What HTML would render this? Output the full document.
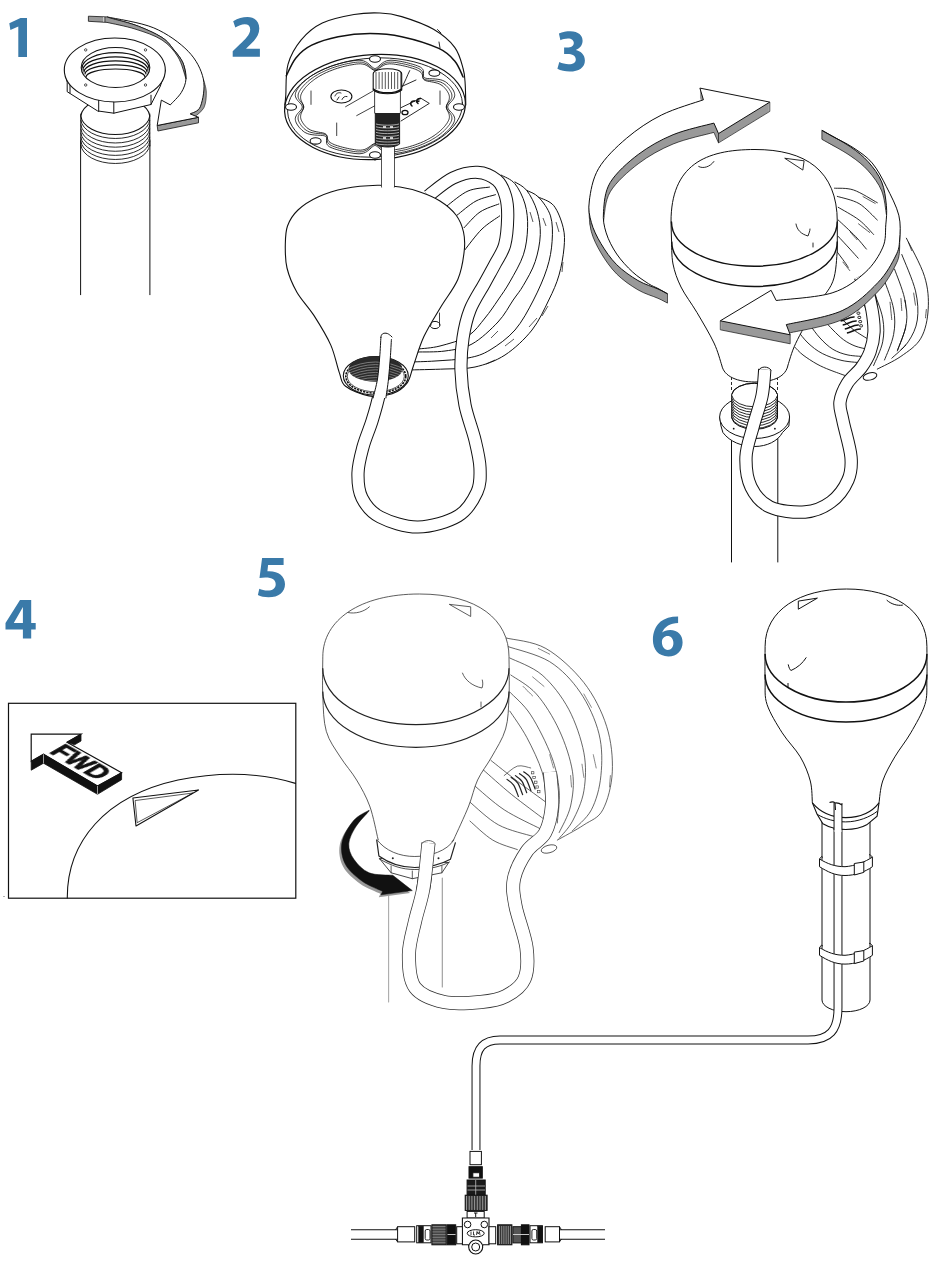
<!DOCTYPE html>
<html><head><meta charset="utf-8"><title>Installation</title>
<style>
html,body{margin:0;padding:0;background:#fff;width:945px;height:1265px;overflow:hidden}
svg{display:block}
.d{fill:#3a7aa9}
.l{fill:none;stroke:#111;stroke-width:1;stroke-linejoin:round;stroke-linecap:round}
.w{fill:#fff;stroke:#111;stroke-width:1;stroke-linejoin:round}
.g{fill:#999;stroke:#111;stroke-width:.8;stroke-linejoin:round}
.t{fill:none;stroke:#111;stroke-width:.7}
</style></head>
<body>
<svg width="945" height="1265" viewBox="0 0 945 1265">
<rect width="945" height="1265" fill="#fff"/>
<g id="digits">
<path class="d" d="M9.3,23.2 L20.5,17.9 L27,17.9 L27,57 L18.3,57 L18.3,26.5 L10.4,29.9 Z"/>
<path class="d" d="M233.2,21.3 C238,18.5 242.5,17.1 247.5,17.1 C254.5,17.1 259.3,21.2 259.3,28.6 C259.3,35.2 255.5,39.5 251.3,43.5 L246,48.8 L259.9,48.8 L259.9,56.8 L232.7,56.8 L232.7,51.2 L239.6,44.5 C245,39.3 250.2,34.5 250.2,29.4 C250.2,25.9 248.3,24.2 244.7,24.2 C241.5,24.2 238.6,25.7 235.3,27.4 Z"/>
<path class="d" d="M558.9,33.4 C562.5,31.9 566.5,31.3 570.3,31.3 C578.5,31.3 582.6,35.6 582.6,40.8 C582.6,45.2 579.8,48.3 575.8,50.1 C580.2,51 584.9,54.5 584.9,60.5 C584.9,67.5 578.8,71.6 569.8,71.6 C565.2,71.6 560.5,70.6 557.4,68.8 L559.3,62.1 C562,63.4 565.5,64.3 568.6,64.3 C573.5,64.3 575.8,62.2 575.8,59.5 C575.8,55.6 572.2,54 567.4,54 L564.1,54 L564.1,47.6 L567.3,47.6 C570.8,47.6 573.8,46.1 573.8,43 C573.8,40.4 571.7,38.5 568,38.5 C565.3,38.5 562.2,39.4 560.4,40.2 Z"/>
<path class="d" d="M20,600 L31.2,600 L31.2,623.1 L35.7,623.1 L35.7,629.5 L31.2,629.5 L31.2,638.6 L22.9,638.6 L22.9,629.5 L5.5,629.5 L5.5,623.1 Z M22.9,606.9 L13.8,622.9 L22.9,622.9 Z"/>
<path class="d" d="M262.1,558 L283.6,558 L283.6,565.1 L268.1,565.1 L267.4,571.3 C278,570.6 285,576 285,584.2 C285,592 278.8,597.3 268.5,597.3 C264.5,597.3 260.5,596.5 257.9,595.1 L259.3,588.7 C261.5,589.7 264.5,590.6 267.8,590.6 C272.3,590.6 275.7,588.3 275.7,584.2 C275.7,580.1 272.6,577.5 265.3,577.5 C263,577.5 261.2,577.7 259.5,578 Z"/>
<path class="d" d="M678.1,616.4 L678.1,622.9 C670.5,623 664.5,626.5 662.1,632.4 C664,630.9 666.8,630 670.2,630 C677.8,630 682.6,635 682.6,642.4 C682.6,650.3 677,656.4 668.4,656.4 C658.4,656.4 652.9,649.4 652.9,639.8 C652.9,632.2 655.8,625.8 660.6,621.6 C664.8,618.1 670.5,616.5 678.1,616.4 Z M667.6,635.9 C664.5,635.9 661.9,638.2 661.9,642.1 C661.9,646.6 664.3,649.9 667.8,649.9 C671.2,649.9 673.4,647.2 673.4,643 C673.4,638.6 671,635.9 667.6,635.9 Z"/>
</g>
<g id="p1">
<path d="M80.6,140 L80.6,294.7 M149.9,140 L149.9,294.7" class="l" />
<path d="M80.8,116 L80.8,146 A34.6,20 0 0 0 149.8,146 L149.8,116 A34.6,20 0 0 0 80.8,116 Z" style="fill:#fff;stroke:none" />
<path d="M80.8,114 L80.8,146 M149.8,114 L149.8,146" class="l" />
<path d="M80.8,120 A34.6,20 0 0 0 149.8,120 M80.8,124.5 A34.6,20 0 0 0 149.8,124.5 M80.8,128.7 A34.6,20 0 0 0 149.8,128.7 M80.8,132.8 A34.6,20 0 0 0 149.8,132.8 M80.8,136.9 A34.6,20 0 0 0 149.8,136.9 M80.8,141 A34.6,20 0 0 0 149.8,141 M80.8,145 A34.6,20 0 0 0 149.8,145 " class="t" style="stroke-width:.9" />
<path d="M80.8,116 A34.6,20 0 0 1 149.8,116 A34.6,20 0 0 1 80.8,116" class="l" style="stroke-width:1.1" />
<path d="M64.5,70 L67.2,82.4 L67.2,91.7 L97.5,110.9 L113.8,113.2 L151,104.5 L160.4,86 L165.4,70 Z" class="w" />
<path d="M98.7,100.4 L98.7,111.5 M113.8,101.2 L113.8,113.2 M151,95.2 L151,104.5 M70,84 L70,93" class="l" />
<ellipse class="w" cx="114.8" cy="70" rx="50.5" ry="32" style="stroke-width:1.1"/>
<ellipse class="w" cx="115.5" cy="67.5" rx="34.3" ry="20" style="stroke-width:1.1"/>
<clipPath id="hole1"><ellipse cx="115.5" cy="67.5" rx="34.3" ry="20"/></clipPath>
<g clip-path="url(#hole1)">
<path d="M82,68 A33.5,15.3 0 0 1 149,68 M83,70 A32.5,13.2 0 0 1 148,70 M84,72 A31.5,11.2 0 0 1 147,72 M85,74 A30.5,9.1 0 0 1 146,74 M86,77 A29.5,8 0 0 1 145,77" class="l" style="stroke-width:1.2" />
</g>
<g fill="none" stroke="#222" stroke-width=".8"><circle cx="85.7" cy="49.9" r="1.2"/><circle cx="145.5" cy="49.9" r="1.2"/><circle cx="85.7" cy="85" r="1.2"/><circle cx="145.5" cy="85" r="1.2"/></g>
<path d="M157.2,125.5 L198.5,117.3 L198.5,122.8 L157.9,131 Z" class="g" />
<path d="M203.3,78.8 C203.8,81 206.2,87.2 206.3,92 C206.4,96.8 206,103.3 204,107.5 C202,111.7 196.1,115.4 194.5,117 L190.2,113.9 C201,103.9 202.8,96.6 203.3,92 C203.8,87.4 203.3,81 203.3,78.8 Z" style="fill:#999;stroke:#111;stroke-width:.6" />
<path d="M107,16.9 C114.8,18.7 140.3,22.2 153.8,27.9 C167.3,33.6 179.9,42.8 188.2,51.3 C196.4,59.8 201.2,69.6 203.3,78.8 C205.4,88 202.7,100.4 200.5,106.3 C198.3,112.2 191.9,112.6 190.2,113.9 L198.5,117.3 L157.2,125.5 L161.3,100.1 L170.3,104.9 C172.1,102.8 178.7,96.8 181.3,92.5 C183.9,88.2 185.7,83.7 186,78.8 C186.3,73.9 185,67.8 183,63 C181,58.2 177.5,54.2 174,50 C170.5,45.8 168.5,41.7 162,37.5 C155.5,33.3 144.2,28.3 135,25 C125.8,21.7 111.7,18.8 107,17.6 Z" class="w" style="stroke-width:1" />
<path d="M88.4,16.2 L107,16.9 C111.7,18.8 125.8,21.7 135,25 C144.2,28.3 155.5,33.3 162,37.5 C168.5,41.7 170.5,45.8 174,50 C177.5,54.2 181,58.2 183,63 C185,67.8 185.5,76.2 186,78.8 C184.7,75.2 182,63.5 178,57 C174,50.5 169.2,44.7 162,40 C154.8,35.3 144.2,31.9 135,29 C125.8,26.1 111.7,23.5 107,22.4 L88.4,21.3 Z" style="fill:#999;stroke:#111;stroke-width:.8" />
<path d="M103.8,17 L103.8,21.8" style="stroke:#eee;stroke-width:.9" />
<path d="M105,17 L105,22" style="stroke:#111;stroke-width:.6" />
</g><g id="p2">
<path d="M501.4,175.2 C503.6,176.6 511,178.9 514.9,183.7 C518.8,188.5 522.9,196.7 525,204 C527.1,211.3 527.9,219.2 527.6,227.7 C527.3,236.2 526.4,245.8 523.4,254.8 C520.4,263.8 514,274.4 509.8,281.9 C505.6,289.4 502.1,294 498,300 C493.9,306 490,312 485,318 C480,324 475.5,331.3 468,336 C460.5,340.7 448.3,343.8 440,346 C431.7,348.2 421.7,348.5 418,349" class="l" />
<path d="M514.9,182 C516.9,183.4 523.1,185.7 526.8,190.5 C530.5,195.3 534.8,203.5 537,210.8 C539.2,218.1 540.6,226 540.3,234.5 C540,243 538,253.1 535.2,261.6 C532.4,270.1 527.1,278.9 523.4,285.3 C519.7,291.7 517.4,293.9 513.2,300 C509,306.1 504.9,314.7 498,322 C491.1,329.3 480.8,339.2 472,344 C463.2,348.8 454,349.7 445,351 C436,352.3 422.5,351.8 418,352" class="l" />
<path d="M526.8,190.5 C528.8,191.6 534.6,193 538.6,197.2 C542.6,201.4 548.2,208.6 550.5,215.9 C552.8,223.2 552.7,232.6 552.1,241.3 C551.5,250.1 550.1,258.6 547,268.4 C543.9,278.2 538.8,289.7 533.5,300 C528.2,310.3 522.2,321.7 515,330 C507.8,338.3 497.8,345.3 490,350 C482.2,354.7 477.2,356.2 468,358 C458.8,359.8 444.7,360.3 435,361 C425.3,361.7 414.2,361.8 410,362" class="l" />
<path d="M538.6,197.2 C541.1,198.6 549.7,200.6 553.8,205.7 C557.9,210.8 561.5,220.6 563.2,227.7 C564.9,234.8 564.7,240.1 564,248 C563.3,255.9 561.5,266.4 559,275.1 C556.5,283.8 553.3,290.9 548.8,300 C544.3,309.1 539.3,320.8 532,330 C524.7,339.2 514.5,348.8 505,355 C495.5,361.2 485,364.7 475,367 C465,369.3 456.2,368.5 445,369 C433.8,369.5 414.2,369.8 408,370" class="l" />
<path d="M530,212 L533,222 M543,218 L546,226 M556,222 L559,232 M563,262 L562,272 M548,306 L542,316 M537,318 L529,327 M514,339 L505,346 M498,331 L491,338 M495,360 L486,364" class="t" />
<path d="M447.2,205.7 C450.7,203.2 460.9,194.1 468,191 C475.1,187.9 485.9,187.8 489.5,187.1" class="l" />
<path d="M457.3,215 C460.4,212.7 469.6,204.4 476,201 C482.4,197.6 492.2,195.8 495.4,194.7" class="l" />
<path d="M464.1,227.7 C466.8,225.1 474.2,215.9 480,212 C485.8,208.1 495.7,205.3 498.8,204" class="l" />
<path d="M465,249.7 C467.8,246.2 476.2,234.6 482,229 C487.8,223.4 496.8,218.1 499.7,215.9" class="l" />
<ellipse class="w" cx="435" cy="325" rx="5" ry="3.6"/>
<path d="M431,318 L431,325 M439.5,313 L439.5,325" class="l" style="stroke-width:.8" />
<path d="M428,196 C432.2,193 444.7,181.9 453,178 C461.3,174.1 470.3,171.9 477.6,172.3 C484.9,172.7 492.3,176.3 497,180.3 C501.7,184.3 503.8,190.2 505.6,196.4 C507.4,202.6 507.9,209.6 507.7,217.6 C507.5,225.6 506.7,237.1 504.7,244.7 C502.7,252.3 498.9,256.8 495.5,263.3 C492.1,269.8 488.6,275.8 484.4,283.6 C480.1,291.4 473.6,300.9 470,310 C466.4,319.1 464.5,328 463,338 C461.5,348 460.7,358.8 461,370 C461.3,381.2 462.7,393.3 465,405 C467.3,416.7 472.5,429.5 475,440 C477.5,450.5 479.7,459.3 480,468 C480.3,476.7 480.7,484 477,492 C473.3,500 467.8,510.2 458,516 C448.2,521.8 431,526.8 418,527 C405,527.2 389.3,521.8 380,517 C370.7,512.2 365.7,505.3 362,498 C358.3,490.7 357.8,481.5 358,473 C358.2,464.5 360.7,455.7 363,447 C365.3,438.3 369.2,430 372,421 C374.8,412 377.7,402.3 379.5,393 C381.3,383.7 382,374.3 383,365 C384,355.7 385.1,341.7 385.5,337" style="fill:none;stroke:#111;stroke-width:13.2;stroke-linecap:butt;stroke-linejoin:round" /><path d="M428,196 C432.2,193 444.7,181.9 453,178 C461.3,174.1 470.3,171.9 477.6,172.3 C484.9,172.7 492.3,176.3 497,180.3 C501.7,184.3 503.8,190.2 505.6,196.4 C507.4,202.6 507.9,209.6 507.7,217.6 C507.5,225.6 506.7,237.1 504.7,244.7 C502.7,252.3 498.9,256.8 495.5,263.3 C492.1,269.8 488.6,275.8 484.4,283.6 C480.1,291.4 473.6,300.9 470,310 C466.4,319.1 464.5,328 463,338 C461.5,348 460.7,358.8 461,370 C461.3,381.2 462.7,393.3 465,405 C467.3,416.7 472.5,429.5 475,440 C477.5,450.5 479.7,459.3 480,468 C480.3,476.7 480.7,484 477,492 C473.3,500 467.8,510.2 458,516 C448.2,521.8 431,526.8 418,527 C405,527.2 389.3,521.8 380,517 C370.7,512.2 365.7,505.3 362,498 C358.3,490.7 357.8,481.5 358,473 C358.2,464.5 360.7,455.7 363,447 C365.3,438.3 369.2,430 372,421 C374.8,412 377.7,402.3 379.5,393 C381.3,383.7 382,374.3 383,365 C384,355.7 385.1,341.7 385.5,337" style="fill:none;stroke:#fff;stroke-width:11.2;stroke-linecap:butt;stroke-linejoin:round" />
<path d="M377.4,185.3 C368.2,185.6 354.9,186.6 345,188.5 C335.1,190.4 325.8,193.4 318,197 C310.2,200.6 303.1,205.2 298,210 C292.9,214.8 289.6,220.2 287.5,226 C285.4,231.8 285.4,238 285.3,245 C285.2,252 285.1,260.1 287,268 C288.9,275.9 292.4,284.3 296.9,292.2 C301.4,300.1 308.2,306.6 313.9,315.4 C319.5,324.2 326.6,335.6 330.8,345.1 C335,354.6 336.8,365.7 339.3,372.6 C341.8,379.5 340.7,382.4 345.6,386.3 C350.5,390.2 361.1,394.6 368.9,395.9 C376.7,397.1 385.8,395.9 392.2,393.8 C398.6,391.7 403.5,387.8 407,383.2 C410.5,378.6 410.5,374 413.3,366.2 C416.1,358.4 419.3,346.5 423.9,336.6 C428.5,326.7 435.1,316.5 440.8,307 C446.5,297.5 453.9,288.7 457.8,279.5 C461.7,270.3 463.2,259.9 464.1,252 C465.1,244.1 464.9,238.2 463.5,232 C462.1,225.8 459.9,220.2 456,215 C452.1,209.8 446,204.8 440,201 C434,197.2 426.7,194.3 420,192 C413.3,189.7 407.1,188.1 400,187 C392.9,185.9 386.6,185.1 377.4,185.3 Z" class="w" style="stroke-width:1.1" />
<ellipse class="w" cx="375.8" cy="375.8" rx="32.5" ry="19.3" style="stroke-width:1.1"/>
<ellipse cx="375.8" cy="376.3" rx="30" ry="16.8" style="fill:none;stroke:#111;stroke-width:1.6;stroke-dasharray:2.2 1"/>
<ellipse cx="375.8" cy="376.3" rx="28.5" ry="15.5" style="fill:#fff;stroke:#111;stroke-width:.7"/>
<clipPath id="op2"><ellipse cx="375.5" cy="369" rx="27" ry="12.8"/></clipPath>
<ellipse cx="375.5" cy="369" rx="27" ry="12.8" style="fill:#2a2a2a"/>
<g clip-path="url(#op2)">
<path d="M345,370.0 Q375.5,354.0 406,370.0 M345,372.6 Q375.5,356.6 406,372.6 M345,375.2 Q375.5,359.2 406,375.2 M345,377.8 Q375.5,361.8 406,377.8 M345,380.4 Q375.5,364.4 406,380.4 M345,383.0 Q375.5,367.0 406,383.0 M345,385.6 Q375.5,369.6 406,385.6 M345,388.2 Q375.5,372.2 406,388.2 " style="fill:none;stroke:#bbb;stroke-width:.55" />
</g>
<path d="M380.9,337.2 C380.7,340.5 380.3,350 379.7,357 C379.1,364 378.6,372.2 377.5,379 C376.4,385.8 373.8,394.8 373.1,398 L385.9,398 C386.3,394.8 387.8,385.7 388.5,379 C389.2,372.3 389.8,364.6 390.3,358 C390.8,351.4 391.2,342.7 391.4,339.6 Z" style="fill:#fff;stroke:none" />
<path d="M380.9,337.2 C380.7,340.5 380.3,350 379.7,357 C379.1,364 378.6,372.2 377.5,379 C376.4,385.8 373.8,394.8 373.1,398" class="l" />
<path d="M385.9,398 C386.3,394.8 387.8,385.7 388.5,379 C389.2,372.3 389.8,364.6 390.3,358 C390.8,351.4 391.2,342.7 391.4,339.6" class="l" />
<path d="M380.9,337.5 C381,334 383,333 386,333.2 C388,333.4 389,334.5 390.5,335.5 L392,337" class="l" />
<path d="M284.8,105 C285,103.3 285.3,101.8 285.8,95 C286.3,88.2 285.4,73.5 288,64.3 C290.6,55.1 295.5,46.8 301.2,39.9 C306.9,33 313.5,27.2 322.3,23 C331.1,18.8 344.4,16.2 354,14.5 C363.6,12.8 372.1,12.7 380,13 C387.9,13.3 392.8,13.9 401.7,16.6 C410.6,19.3 424.7,24.2 433.5,29.3 C442.3,34.4 449.8,40.8 454.7,47.3 C459.6,53.8 461.4,62.3 463.1,68.5 C464.9,74.7 464.8,78.3 465.2,84.4 C465.6,90.5 465.7,101.6 465.8,105 L375,160 Z" class="w" style="stroke-width:1.1" />
<path d="M286.3,75.9 C287.9,72.9 291.7,63 295.9,57.9 C300.1,52.8 304.6,48.7 311.7,45.2 C318.8,41.7 328.5,38.6 338.2,36.7 C347.9,34.8 359.4,33.6 370,33.6 C380.6,33.6 390.2,34.2 401.7,36.7 C413.2,39.2 430,44.4 438.8,48.4 C447.6,52.4 450.6,56.2 454.7,61 C458.8,65.8 461.7,74.3 463.1,77" class="l" style="stroke-width:1.5" />
<path d="M437.5,29.5 L441,33 M439,42 L440,48" class="l" style="stroke-width:.9" />
<ellipse class="w" cx="375" cy="107" rx="90.5" ry="52.5" transform="rotate(-3 375 107)" style="stroke-width:1.2"/>
<ellipse class="l" cx="375" cy="107.5" rx="87.5" ry="49.5" transform="rotate(-3 375 107)" style="stroke-width:.9"/>
<path d="M447.7,107 C447.7,107.3 447.8,107.7 447.9,108 C448,108.4 448.2,108.7 448.4,109.1 C448.6,109.4 448.9,109.8 449.2,110.1 C449.5,110.5 449.9,110.9 450.2,111.2 C450.5,111.6 450.9,112 451.3,112.4 C451.6,112.8 452,113.1 452.3,113.5 C452.6,113.9 452.9,114.3 453.2,114.7 C453.5,115.1 453.7,115.5 453.9,115.9 C454.1,116.3 454.3,116.7 454.4,117.1 C454.5,117.5 454.6,117.9 454.7,118.3 C454.7,118.7 454.7,119.1 454.7,119.4 C454.7,119.8 454.6,120.2 454.5,120.6 C454.5,121 454.3,121.4 454.2,121.7 C454.1,122.1 453.9,122.5 453.7,122.9 C453.5,123.2 453.3,123.6 453.1,124 C452.9,124.3 452.7,124.7 452.5,125 C452.2,125.4 452,125.8 451.7,126.1 C451.4,126.5 451.2,126.8 450.9,127.2 C450.6,127.5 450.3,127.9 450,128.2 C449.7,128.6 449.4,128.9 449.1,129.3 C448.8,129.6 448.5,129.9 448.1,130.3 C447.8,130.6 447.5,130.9 447.1,131.3 C446.8,131.6 446.5,131.9 446.1,132.3 C445.7,132.6 445.4,132.9 445,133.2 C444.6,133.6 444.3,133.9 443.9,134.2 C443.5,134.5 443.1,134.8 442.7,135.2 C442.3,135.5 441.9,135.8 441.5,136.1 C441.1,136.4 440.7,136.7 440.3,137 C439.8,137.3 439.4,137.6 439,137.9 C438.5,138.2 438.1,138.5 437.7,138.8 C437.2,139 436.8,139.3 436.3,139.6 C435.8,139.9 435.4,140.2 434.9,140.5 C434.4,140.7 433.9,141 433.5,141.3 C433,141.5 432.5,141.8 432,142.1 C431.5,142.3 431,142.6 430.5,142.8 C430,143.1 429.5,143.4 429,143.6 C428.5,143.9 427.9,144.1 427.4,144.3 C426.9,144.6 426.4,144.8 425.8,145.1 C425.3,145.3 424.7,145.5 424.2,145.7 C423.7,146 423.1,146.2 422.5,146.4 C422,146.6 421.4,146.9 420.9,147.1 C420.3,147.3 419.7,147.5 419.2,147.7 C418.6,147.9 418,148.1 417.4,148.3 C416.9,148.5 416.3,148.7 415.7,148.9 C415.1,149 414.5,149.2 413.9,149.4 C413.3,149.6 412.7,149.8 412.1,149.9 C411.5,150.1 410.9,150.3 410.3,150.4 C409.7,150.6 409,150.8 408.4,150.9 C407.8,151.1 407.2,151.2 406.6,151.4 C405.9,151.5 405.3,151.6 404.7,151.8 C404.1,151.9 403.4,152.1 402.8,152.2 C402.1,152.3 401.5,152.4 400.9,152.6 C400.2,152.7 399.6,152.8 398.9,152.9 C398.3,153 397.6,153.1 397,153.2 C396.3,153.3 395.7,153.4 395,153.5 C394.4,153.5 393.7,153.6 393,153.7 C392.3,153.7 391.7,153.8 391,153.8 C390.3,153.8 389.6,153.7 388.9,153.6 C388.2,153.5 387.5,153.4 386.7,153.2 C386,153 385.3,152.7 384.5,152.3 C383.8,151.9 383.1,151.5 382.3,150.9 C381.6,150.4 380.9,149.8 380.2,149.2 C379.6,148.6 378.9,147.9 378.3,147.4 C377.7,146.9 377.1,146.4 376.6,146.1 C376,145.7 375.5,145.5 375,145.5 C374.5,145.5 374,145.7 373.4,146.1 C372.9,146.4 372.3,146.9 371.7,147.4 C371.1,147.9 370.4,148.6 369.8,149.2 C369.1,149.8 368.4,150.4 367.7,150.9 C366.9,151.5 366.2,151.9 365.5,152.3 C364.7,152.7 364,153 363.3,153.2 C362.5,153.4 361.8,153.5 361.1,153.6 C360.4,153.7 359.7,153.8 359,153.8 C358.3,153.8 357.7,153.7 357,153.7 C356.3,153.6 355.6,153.5 355,153.5 C354.3,153.4 353.7,153.3 353,153.2 C352.4,153.1 351.7,153 351.1,152.9 C350.4,152.8 349.8,152.7 349.1,152.6 C348.5,152.4 347.9,152.3 347.2,152.2 C346.6,152.1 345.9,151.9 345.3,151.8 C344.7,151.6 344.1,151.5 343.4,151.4 C342.8,151.2 342.2,151.1 341.6,150.9 C341,150.8 340.3,150.6 339.7,150.4 C339.1,150.3 338.5,150.1 337.9,149.9 C337.3,149.8 336.7,149.6 336.1,149.4 C335.5,149.2 334.9,149 334.3,148.8 C333.8,148.6 333.2,148.4 332.6,148.2 C332.1,148 331.5,147.8 331,147.5 C330.5,147.3 330,147.1 329.5,146.8 C329.1,146.5 328.6,146.2 328.3,145.9 C327.9,145.5 327.5,145.2 327.3,144.8 C327,144.4 326.8,143.9 326.7,143.5 C326.6,143 326.5,142.5 326.5,142 C326.4,141.5 326.5,140.9 326.5,140.4 C326.5,139.9 326.6,139.4 326.6,138.9 C326.6,138.5 326.6,138 326.5,137.6 C326.4,137.2 326.2,136.9 325.9,136.6 C325.6,136.3 325.2,136.1 324.6,135.9 C324.1,135.7 323.5,135.6 322.7,135.5 C322,135.4 321.1,135.4 320.3,135.3 C319.4,135.3 318.5,135.3 317.5,135.2 C316.6,135.2 315.7,135.1 314.7,135 C313.8,135 312.9,134.9 312.1,134.7 C311.3,134.6 310.5,134.5 309.7,134.3 C309,134.1 308.3,133.9 307.7,133.7 C307.1,133.5 306.5,133.2 305.9,132.9 C305.4,132.7 304.9,132.4 304.4,132.1 C304,131.8 303.6,131.5 303.2,131.2 C302.7,130.9 302.4,130.6 302,130.2 C301.6,129.9 301.3,129.6 301,129.2 C300.6,128.9 300.3,128.6 300,128.2 C299.7,127.9 299.4,127.5 299.1,127.2 C298.8,126.8 298.6,126.5 298.3,126.1 C298,125.8 297.8,125.4 297.5,125 C297.3,124.7 297.1,124.3 296.9,124 C296.7,123.6 296.5,123.2 296.3,122.9 C296.1,122.5 295.9,122.1 295.8,121.7 C295.7,121.4 295.5,121 295.5,120.6 C295.4,120.2 295.3,119.8 295.3,119.4 C295.3,119.1 295.3,118.7 295.3,118.3 C295.4,117.9 295.5,117.5 295.6,117.1 C295.7,116.7 295.9,116.3 296.1,115.9 C296.3,115.5 296.5,115.1 296.8,114.7 C297.1,114.3 297.4,113.9 297.7,113.5 C298,113.1 298.4,112.8 298.7,112.4 C299.1,112 299.5,111.6 299.8,111.2 C300.1,110.9 300.5,110.5 300.8,110.1 C301.1,109.8 301.4,109.4 301.6,109.1 C301.8,108.7 302,108.4 302.1,108 C302.2,107.7 302.3,107.3 302.3,107 C302.3,106.7 302.2,106.3 302.1,106 C302,105.6 301.8,105.3 301.6,104.9 C301.4,104.6 301.1,104.2 300.8,103.9 C300.5,103.5 300.1,103.1 299.8,102.8 C299.5,102.4 299.1,102 298.7,101.6 C298.4,101.2 298,100.9 297.7,100.5 C297.4,100.1 297.1,99.7 296.8,99.3 C296.5,98.9 296.3,98.5 296.1,98.1 C295.9,97.7 295.7,97.3 295.6,96.9 C295.5,96.5 295.4,96.1 295.3,95.7 C295.3,95.3 295.3,94.9 295.3,94.6 C295.3,94.2 295.4,93.8 295.5,93.4 C295.5,93 295.7,92.6 295.8,92.3 C295.9,91.9 296.1,91.5 296.3,91.1 C296.5,90.8 296.7,90.4 296.9,90 C297.1,89.7 297.3,89.3 297.5,89 C297.8,88.6 298,88.2 298.3,87.9 C298.6,87.5 298.8,87.2 299.1,86.8 C299.4,86.5 299.7,86.1 300,85.8 C300.3,85.4 300.6,85.1 300.9,84.7 C301.2,84.4 301.5,84.1 301.9,83.7 C302.2,83.4 302.5,83.1 302.9,82.7 C303.2,82.4 303.5,82.1 303.9,81.7 C304.3,81.4 304.6,81.1 305,80.8 C305.4,80.4 305.7,80.1 306.1,79.8 C306.5,79.5 306.9,79.2 307.3,78.8 C307.7,78.5 308.1,78.2 308.5,77.9 C308.9,77.6 309.3,77.3 309.7,77 C310.2,76.7 310.6,76.4 311,76.1 C311.5,75.8 311.9,75.5 312.3,75.2 C312.8,75 313.2,74.7 313.7,74.4 C314.2,74.1 314.6,73.8 315.1,73.5 C315.6,73.3 316.1,73 316.5,72.7 C317,72.5 317.5,72.2 318,71.9 C318.5,71.7 319,71.4 319.5,71.2 C320,70.9 320.5,70.6 321,70.4 C321.5,70.1 322.1,69.9 322.6,69.7 C323.1,69.4 323.6,69.2 324.2,68.9 C324.7,68.7 325.3,68.5 325.8,68.3 C326.3,68 326.9,67.8 327.5,67.6 C328,67.4 328.6,67.1 329.1,66.9 C329.7,66.7 330.3,66.5 330.8,66.3 C331.4,66.1 332,65.9 332.6,65.7 C333.1,65.5 333.7,65.3 334.3,65.1 C334.9,65 335.5,64.8 336.1,64.6 C336.7,64.4 337.3,64.2 337.9,64.1 C338.5,63.9 339.1,63.7 339.7,63.6 C340.3,63.4 341,63.2 341.6,63.1 C342.2,62.9 342.8,62.8 343.4,62.6 C344.1,62.5 344.7,62.4 345.3,62.2 C345.9,62.1 346.6,61.9 347.2,61.8 C347.9,61.7 348.5,61.6 349.1,61.4 C349.8,61.3 350.4,61.2 351.1,61.1 C351.7,61 352.4,60.9 353,60.8 C353.7,60.7 354.3,60.6 355,60.5 C355.6,60.5 356.3,60.4 357,60.3 C357.7,60.3 358.3,60.2 359,60.2 C359.7,60.2 360.4,60.3 361.1,60.4 C361.8,60.5 362.5,60.6 363.3,60.8 C364,61 364.7,61.3 365.5,61.7 C366.2,62.1 366.9,62.5 367.7,63.1 C368.4,63.6 369.1,64.2 369.8,64.8 C370.4,65.4 371.1,66.1 371.7,66.6 C372.3,67.1 372.9,67.6 373.4,67.9 C374,68.3 374.5,68.5 375,68.5 C375.5,68.5 376,68.3 376.6,67.9 C377.1,67.6 377.7,67.1 378.3,66.6 C378.9,66.1 379.6,65.4 380.2,64.8 C380.9,64.2 381.6,63.6 382.3,63.1 C383.1,62.5 383.8,62.1 384.5,61.7 C385.3,61.3 386,61 386.7,60.8 C387.5,60.6 388.2,60.5 388.9,60.4 C389.6,60.3 390.3,60.2 391,60.2 C391.7,60.2 392.3,60.3 393,60.3 C393.7,60.4 394.4,60.5 395,60.5 C395.7,60.6 396.3,60.7 397,60.8 C397.6,60.9 398.3,61 398.9,61.1 C399.6,61.2 400.2,61.3 400.9,61.4 C401.5,61.6 402.1,61.7 402.8,61.8 C403.4,61.9 404.1,62.1 404.7,62.2 C405.3,62.4 405.9,62.5 406.6,62.6 C407.2,62.8 407.8,62.9 408.4,63.1 C409,63.2 409.7,63.4 410.3,63.6 C410.9,63.7 411.5,63.9 412.1,64.1 C412.7,64.2 413.3,64.4 413.9,64.6 C414.5,64.8 415.1,65 415.7,65.2 C416.2,65.4 416.8,65.6 417.4,65.8 C417.9,66 418.5,66.2 419,66.5 C419.5,66.7 420,66.9 420.5,67.2 C420.9,67.5 421.4,67.8 421.7,68.1 C422.1,68.5 422.5,68.8 422.7,69.2 C423,69.6 423.2,70.1 423.3,70.5 C423.4,71 423.5,71.5 423.5,72 C423.6,72.5 423.5,73.1 423.5,73.6 C423.5,74.1 423.4,74.6 423.4,75.1 C423.4,75.5 423.4,76 423.5,76.4 C423.6,76.8 423.8,77.1 424.1,77.4 C424.4,77.7 424.8,77.9 425.4,78.1 C425.9,78.3 426.5,78.4 427.3,78.5 C428,78.6 428.9,78.6 429.7,78.7 C430.6,78.7 431.5,78.7 432.5,78.8 C433.4,78.8 434.3,78.9 435.3,79 C436.2,79 437.1,79.1 437.9,79.3 C438.7,79.4 439.5,79.5 440.3,79.7 C441,79.9 441.7,80.1 442.3,80.3 C442.9,80.5 443.5,80.8 444.1,81.1 C444.6,81.3 445.1,81.6 445.6,81.9 C446,82.2 446.4,82.5 446.8,82.8 C447.3,83.1 447.6,83.4 448,83.8 C448.4,84.1 448.7,84.4 449,84.8 C449.4,85.1 449.7,85.4 450,85.8 C450.3,86.1 450.6,86.5 450.9,86.8 C451.2,87.2 451.4,87.5 451.7,87.9 C452,88.2 452.2,88.6 452.5,89 C452.7,89.3 452.9,89.7 453.1,90 C453.3,90.4 453.5,90.8 453.7,91.1 C453.9,91.5 454.1,91.9 454.2,92.3 C454.3,92.6 454.5,93 454.5,93.4 C454.6,93.8 454.7,94.2 454.7,94.6 C454.7,94.9 454.7,95.3 454.7,95.7 C454.6,96.1 454.5,96.5 454.4,96.9 C454.3,97.3 454.1,97.7 453.9,98.1 C453.7,98.5 453.5,98.9 453.2,99.3 C452.9,99.7 452.6,100.1 452.3,100.5 C452,100.9 451.6,101.2 451.3,101.6 C450.9,102 450.5,102.4 450.2,102.8 C449.9,103.1 449.5,103.5 449.2,103.9 C448.9,104.2 448.6,104.6 448.4,104.9 C448.2,105.3 448,105.6 447.9,106 C447.8,106.3 447.7,106.7 447.7,107 Z" style="fill:none;stroke:#111;stroke-width:0.85" />
<path d="M446.2,107 C446.2,107.3 446.3,107.7 446.4,108 C446.5,108.3 446.6,108.7 446.8,109 C447,109.4 447.3,109.7 447.5,110.1 C447.8,110.4 448.1,110.8 448.4,111.1 C448.6,111.5 449,111.9 449.3,112.2 C449.5,112.6 449.8,113 450.1,113.3 C450.4,113.7 450.6,114.1 450.9,114.5 C451.1,114.8 451.3,115.2 451.4,115.6 C451.6,116 451.7,116.4 451.8,116.7 C451.9,117.1 451.9,117.5 451.9,117.9 C452,118.3 451.9,118.6 451.9,119 C451.8,119.4 451.8,119.7 451.7,120.1 C451.6,120.5 451.4,120.8 451.3,121.2 C451.2,121.6 451,121.9 450.8,122.3 C450.6,122.6 450.4,123 450.2,123.3 C450,123.7 449.8,124 449.6,124.4 C449.3,124.7 449.1,125.1 448.8,125.4 C448.6,125.7 448.3,126.1 448,126.4 C447.8,126.8 447.5,127.1 447.2,127.4 C446.9,127.8 446.6,128.1 446.3,128.4 C446,128.7 445.7,129.1 445.4,129.4 C445.1,129.7 444.8,130 444.4,130.4 C444.1,130.7 443.8,131 443.4,131.3 C443.1,131.6 442.7,131.9 442.4,132.3 C442,132.6 441.7,132.9 441.3,133.2 C440.9,133.5 440.5,133.8 440.2,134.1 C439.8,134.4 439.4,134.7 439,135 C438.6,135.3 438.2,135.6 437.8,135.9 C437.4,136.2 437,136.4 436.6,136.7 C436.1,137 435.7,137.3 435.3,137.6 C434.9,137.8 434.4,138.1 434,138.4 C433.5,138.7 433.1,138.9 432.6,139.2 C432.2,139.5 431.7,139.7 431.3,140 C430.8,140.2 430.3,140.5 429.9,140.8 C429.4,141 428.9,141.3 428.4,141.5 C427.9,141.7 427.4,142 426.9,142.2 C426.4,142.5 425.9,142.7 425.4,142.9 C424.9,143.2 424.4,143.4 423.9,143.6 C423.4,143.8 422.9,144.1 422.3,144.3 C421.8,144.5 421.3,144.7 420.8,144.9 C420.2,145.1 419.7,145.4 419.1,145.6 C418.6,145.8 418.1,146 417.5,146.2 C417,146.3 416.4,146.5 415.8,146.7 C415.3,146.9 414.7,147.1 414.1,147.3 C413.6,147.5 413,147.6 412.4,147.8 C411.9,148 411.3,148.2 410.7,148.3 C410.1,148.5 409.5,148.6 408.9,148.8 C408.4,149 407.8,149.1 407.2,149.3 C406.6,149.4 406,149.5 405.4,149.7 C404.8,149.8 404.2,150 403.6,150.1 C403,150.2 402.3,150.4 401.7,150.5 C401.1,150.6 400.5,150.7 399.9,150.8 C399.3,150.9 398.7,151.1 398,151.2 C397.4,151.3 396.8,151.4 396.2,151.5 C395.5,151.6 394.9,151.6 394.3,151.7 C393.6,151.8 393,151.8 392.3,151.9 C391.7,151.9 391,152 390.4,151.9 C389.7,151.9 389,151.9 388.3,151.8 C387.7,151.7 387,151.6 386.3,151.3 C385.6,151.1 384.8,150.8 384.1,150.4 C383.4,150.1 382.7,149.6 382,149.1 C381.3,148.6 380.7,148 380,147.5 C379.4,147 378.8,146.3 378.2,145.9 C377.6,145.4 377.1,144.9 376.5,144.7 C376,144.4 375.5,144.2 375,144.2 C374.5,144.2 374,144.4 373.5,144.7 C372.9,144.9 372.4,145.4 371.8,145.9 C371.2,146.3 370.6,147 370,147.5 C369.3,148 368.7,148.6 368,149.1 C367.3,149.6 366.6,150.1 365.9,150.4 C365.2,150.8 364.4,151.1 363.7,151.3 C363,151.6 362.3,151.7 361.7,151.8 C361,151.9 360.3,151.9 359.6,151.9 C359,152 358.3,151.9 357.7,151.9 C357,151.8 356.4,151.8 355.7,151.7 C355.1,151.6 354.5,151.6 353.8,151.5 C353.2,151.4 352.6,151.3 352,151.2 C351.3,151.1 350.7,150.9 350.1,150.8 C349.5,150.7 348.9,150.6 348.3,150.5 C347.7,150.4 347,150.2 346.4,150.1 C345.8,150 345.2,149.8 344.6,149.7 C344,149.5 343.4,149.4 342.8,149.3 C342.2,149.1 341.6,149 341.1,148.8 C340.5,148.6 339.9,148.5 339.3,148.3 C338.7,148.2 338.1,148 337.6,147.8 C337,147.6 336.4,147.5 335.9,147.3 C335.3,147.1 334.8,146.9 334.2,146.7 C333.7,146.5 333.1,146.3 332.6,146.1 C332.1,145.8 331.6,145.6 331.1,145.4 C330.6,145.1 330.2,144.9 329.8,144.6 C329.3,144.3 329,144 328.6,143.6 C328.3,143.3 328,142.9 327.8,142.5 C327.6,142.1 327.5,141.7 327.4,141.2 C327.2,140.8 327.2,140.3 327.2,139.9 C327.2,139.4 327.2,138.9 327.2,138.4 C327.2,138 327.2,137.5 327.2,137.1 C327.1,136.7 327.1,136.3 326.9,135.9 C326.7,135.6 326.5,135.3 326.2,135 C325.8,134.8 325.4,134.6 324.9,134.4 C324.3,134.2 323.7,134.1 323,134 C322.3,133.9 321.5,133.8 320.7,133.7 C319.9,133.7 319,133.6 318.2,133.5 C317.3,133.5 316.4,133.4 315.6,133.3 C314.8,133.2 313.9,133.1 313.2,132.9 C312.4,132.8 311.7,132.6 311,132.4 C310.3,132.2 309.7,132 309.1,131.8 C308.5,131.6 308,131.3 307.5,131 C307,130.8 306.6,130.5 306.1,130.2 C305.7,129.9 305.3,129.6 304.9,129.3 C304.5,129 304.2,128.7 303.8,128.4 C303.5,128.1 303.2,127.7 302.9,127.4 C302.6,127.1 302.3,126.7 302,126.4 C301.7,126.1 301.5,125.7 301.2,125.4 C300.9,125.1 300.7,124.7 300.5,124.4 C300.2,124 300,123.7 299.8,123.3 C299.6,123 299.4,122.6 299.2,122.3 C299,121.9 298.8,121.6 298.7,121.2 C298.6,120.8 298.4,120.5 298.3,120.1 C298.2,119.7 298.2,119.4 298.1,119 C298.1,118.6 298,118.3 298.1,117.9 C298.1,117.5 298.1,117.1 298.2,116.7 C298.3,116.4 298.4,116 298.6,115.6 C298.7,115.2 298.9,114.8 299.1,114.5 C299.4,114.1 299.6,113.7 299.9,113.3 C300.2,113 300.5,112.6 300.7,112.2 C301,111.9 301.4,111.5 301.6,111.1 C301.9,110.8 302.2,110.4 302.5,110.1 C302.7,109.7 303,109.4 303.2,109 C303.4,108.7 303.5,108.3 303.6,108 C303.7,107.7 303.8,107.3 303.8,107 C303.8,106.7 303.7,106.3 303.6,106 C303.5,105.7 303.4,105.3 303.2,105 C303,104.6 302.7,104.3 302.5,103.9 C302.2,103.6 301.9,103.2 301.6,102.9 C301.4,102.5 301,102.1 300.7,101.8 C300.5,101.4 300.2,101 299.9,100.7 C299.6,100.3 299.4,99.9 299.1,99.5 C298.9,99.2 298.7,98.8 298.6,98.4 C298.4,98 298.3,97.6 298.2,97.3 C298.1,96.9 298.1,96.5 298.1,96.1 C298,95.7 298.1,95.4 298.1,95 C298.2,94.6 298.2,94.3 298.3,93.9 C298.4,93.5 298.6,93.2 298.7,92.8 C298.8,92.4 299,92.1 299.2,91.7 C299.4,91.4 299.6,91 299.8,90.7 C300,90.3 300.2,90 300.4,89.6 C300.7,89.3 300.9,88.9 301.2,88.6 C301.4,88.3 301.7,87.9 302,87.6 C302.2,87.2 302.5,86.9 302.8,86.6 C303.1,86.2 303.4,85.9 303.7,85.6 C304,85.3 304.3,84.9 304.6,84.6 C304.9,84.3 305.2,84 305.6,83.6 C305.9,83.3 306.2,83 306.6,82.7 C306.9,82.4 307.3,82.1 307.6,81.7 C308,81.4 308.3,81.1 308.7,80.8 C309.1,80.5 309.5,80.2 309.8,79.9 C310.2,79.6 310.6,79.3 311,79 C311.4,78.7 311.8,78.4 312.2,78.1 C312.6,77.8 313,77.6 313.4,77.3 C313.9,77 314.3,76.7 314.7,76.4 C315.1,76.2 315.6,75.9 316,75.6 C316.5,75.3 316.9,75.1 317.4,74.8 C317.8,74.5 318.3,74.3 318.7,74 C319.2,73.8 319.7,73.5 320.1,73.2 C320.6,73 321.1,72.7 321.6,72.5 C322.1,72.3 322.6,72 323.1,71.8 C323.6,71.5 324.1,71.3 324.6,71.1 C325.1,70.8 325.6,70.6 326.1,70.4 C326.6,70.2 327.1,69.9 327.7,69.7 C328.2,69.5 328.7,69.3 329.2,69.1 C329.8,68.9 330.3,68.6 330.9,68.4 C331.4,68.2 331.9,68 332.5,67.8 C333,67.7 333.6,67.5 334.2,67.3 C334.7,67.1 335.3,66.9 335.9,66.7 C336.4,66.5 337,66.4 337.6,66.2 C338.1,66 338.7,65.8 339.3,65.7 C339.9,65.5 340.5,65.4 341.1,65.2 C341.6,65 342.2,64.9 342.8,64.7 C343.4,64.6 344,64.5 344.6,64.3 C345.2,64.2 345.8,64 346.4,63.9 C347,63.8 347.7,63.6 348.3,63.5 C348.9,63.4 349.5,63.3 350.1,63.2 C350.7,63.1 351.3,62.9 352,62.8 C352.6,62.7 353.2,62.6 353.8,62.5 C354.5,62.4 355.1,62.4 355.7,62.3 C356.4,62.2 357,62.2 357.7,62.1 C358.3,62.1 359,62 359.6,62.1 C360.3,62.1 361,62.1 361.7,62.2 C362.3,62.3 363,62.4 363.7,62.7 C364.4,62.9 365.2,63.2 365.9,63.6 C366.6,63.9 367.3,64.4 368,64.9 C368.7,65.4 369.3,66 370,66.5 C370.6,67 371.2,67.7 371.8,68.1 C372.4,68.6 372.9,69.1 373.5,69.3 C374,69.6 374.5,69.8 375,69.8 C375.5,69.8 376,69.6 376.5,69.3 C377.1,69.1 377.6,68.6 378.2,68.1 C378.8,67.7 379.4,67 380,66.5 C380.7,66 381.3,65.4 382,64.9 C382.7,64.4 383.4,63.9 384.1,63.6 C384.8,63.2 385.6,62.9 386.3,62.7 C387,62.4 387.7,62.3 388.3,62.2 C389,62.1 389.7,62.1 390.4,62.1 C391,62 391.7,62.1 392.3,62.1 C393,62.2 393.6,62.2 394.3,62.3 C394.9,62.4 395.5,62.4 396.2,62.5 C396.8,62.6 397.4,62.7 398,62.8 C398.7,62.9 399.3,63.1 399.9,63.2 C400.5,63.3 401.1,63.4 401.7,63.5 C402.3,63.6 403,63.8 403.6,63.9 C404.2,64 404.8,64.2 405.4,64.3 C406,64.5 406.6,64.6 407.2,64.7 C407.8,64.9 408.4,65 408.9,65.2 C409.5,65.4 410.1,65.5 410.7,65.7 C411.3,65.8 411.9,66 412.4,66.2 C413,66.4 413.6,66.5 414.1,66.7 C414.7,66.9 415.2,67.1 415.8,67.3 C416.3,67.5 416.9,67.7 417.4,67.9 C417.9,68.2 418.4,68.4 418.9,68.6 C419.4,68.9 419.8,69.1 420.2,69.4 C420.7,69.7 421,70 421.4,70.4 C421.7,70.7 422,71.1 422.2,71.5 C422.4,71.9 422.5,72.3 422.6,72.8 C422.8,73.2 422.8,73.7 422.8,74.1 C422.8,74.6 422.8,75.1 422.8,75.6 C422.8,76 422.8,76.5 422.8,76.9 C422.9,77.3 422.9,77.7 423.1,78.1 C423.3,78.4 423.5,78.7 423.8,79 C424.2,79.2 424.6,79.4 425.1,79.6 C425.7,79.8 426.3,79.9 427,80 C427.7,80.1 428.5,80.2 429.3,80.3 C430.1,80.3 431,80.4 431.8,80.5 C432.7,80.5 433.6,80.6 434.4,80.7 C435.2,80.8 436.1,80.9 436.8,81.1 C437.6,81.2 438.3,81.4 439,81.6 C439.7,81.8 440.3,82 440.9,82.2 C441.5,82.4 442,82.7 442.5,83 C443,83.2 443.4,83.5 443.9,83.8 C444.3,84.1 444.7,84.4 445.1,84.7 C445.5,85 445.8,85.3 446.2,85.6 C446.5,85.9 446.8,86.3 447.1,86.6 C447.4,86.9 447.7,87.3 448,87.6 C448.3,87.9 448.5,88.3 448.8,88.6 C449.1,88.9 449.3,89.3 449.5,89.6 C449.8,90 450,90.3 450.2,90.7 C450.4,91 450.6,91.4 450.8,91.7 C451,92.1 451.2,92.4 451.3,92.8 C451.4,93.2 451.6,93.5 451.7,93.9 C451.8,94.3 451.8,94.6 451.9,95 C451.9,95.4 452,95.7 451.9,96.1 C451.9,96.5 451.9,96.9 451.8,97.3 C451.7,97.6 451.6,98 451.4,98.4 C451.3,98.8 451.1,99.2 450.9,99.5 C450.6,99.9 450.4,100.3 450.1,100.7 C449.8,101 449.5,101.4 449.3,101.8 C449,102.1 448.6,102.5 448.4,102.9 C448.1,103.2 447.8,103.6 447.5,103.9 C447.3,104.3 447,104.6 446.8,105 C446.6,105.3 446.5,105.7 446.4,106 C446.3,106.3 446.2,106.7 446.2,107 Z" style="fill:none;stroke:#111;stroke-width:0.8" />
<path d="M446.4,107 C446.4,107.3 446.4,107.7 446.5,108 C446.5,108.3 446.6,108.7 446.8,109 C446.9,109.3 447,109.7 447.2,110 C447.3,110.4 447.5,110.7 447.7,111.1 C447.8,111.4 448,111.8 448.2,112.1 C448.4,112.5 448.5,112.8 448.7,113.2 C448.8,113.6 449,113.9 449.1,114.3 C449.2,114.6 449.3,115 449.3,115.4 C449.4,115.7 449.4,116.1 449.4,116.4 C449.4,116.8 449.4,117.2 449.4,117.5 C449.3,117.9 449.3,118.2 449.2,118.6 C449.1,118.9 449,119.3 448.9,119.6 C448.7,120 448.6,120.3 448.4,120.7 C448.3,121 448.1,121.3 447.9,121.7 C447.7,122 447.5,122.4 447.3,122.7 C447.1,123 446.9,123.4 446.7,123.7 C446.4,124 446.2,124.4 445.9,124.7 C445.7,125 445.4,125.3 445.2,125.7 C444.9,126 444.7,126.3 444.4,126.6 C444.1,126.9 443.8,127.3 443.5,127.6 C443.2,127.9 442.9,128.2 442.6,128.5 C442.3,128.8 442,129.1 441.7,129.5 C441.4,129.8 441.1,130.1 440.7,130.4 C440.4,130.7 440.1,131 439.7,131.3 C439.4,131.6 439.1,131.9 438.7,132.2 C438.3,132.5 438,132.7 437.6,133 C437.3,133.3 436.9,133.6 436.5,133.9 C436.1,134.2 435.7,134.5 435.3,134.7 C435,135 434.6,135.3 434.2,135.6 C433.8,135.8 433.3,136.1 432.9,136.4 C432.5,136.6 432.1,136.9 431.7,137.2 C431.3,137.4 430.8,137.7 430.4,137.9 C430,138.2 429.5,138.4 429.1,138.7 C428.6,138.9 428.2,139.2 427.7,139.4 C427.3,139.7 426.8,139.9 426.3,140.2 C425.9,140.4 425.4,140.6 424.9,140.9 C424.4,141.1 424,141.3 423.5,141.5 C423,141.8 422.5,142 422,142.2 C421.5,142.4 421,142.6 420.5,142.8 C420,143 419.5,143.2 419,143.4 C418.5,143.7 417.9,143.9 417.4,144 C416.9,144.2 416.4,144.4 415.8,144.6 C415.3,144.8 414.8,145 414.2,145.2 C413.7,145.4 413.2,145.5 412.6,145.7 C412.1,145.9 411.5,146.1 411,146.2 C410.4,146.4 409.9,146.5 409.3,146.7 C408.7,146.9 408.2,147 407.6,147.2 C407.1,147.3 406.5,147.5 405.9,147.6 C405.3,147.7 404.8,147.9 404.2,148 C403.6,148.2 403,148.3 402.4,148.4 C401.9,148.5 401.3,148.7 400.7,148.8 C400.1,148.9 399.5,149 398.9,149.1 C398.3,149.2 397.7,149.3 397.1,149.4 C396.5,149.5 395.9,149.6 395.3,149.7 C394.7,149.8 394.1,149.9 393.5,150 C392.9,150 392.3,150.1 391.6,150.1 C391,150.1 390.4,150.2 389.7,150.2 C389.1,150.1 388.5,150.1 387.8,150 C387.1,149.9 386.5,149.8 385.8,149.6 C385.1,149.4 384.5,149.1 383.8,148.8 C383.1,148.5 382.4,148.1 381.8,147.6 C381.1,147.2 380.5,146.7 379.9,146.3 C379.3,145.8 378.7,145.3 378.1,144.9 C377.6,144.5 377,144.2 376.5,143.9 C376,143.7 375.5,143.6 375,143.6 C374.5,143.6 374,143.7 373.5,143.9 C373,144.2 372.4,144.5 371.9,144.9 C371.3,145.3 370.7,145.8 370.1,146.3 C369.5,146.7 368.9,147.2 368.2,147.6 C367.6,148.1 366.9,148.5 366.2,148.8 C365.5,149.1 364.9,149.4 364.2,149.6 C363.5,149.8 362.9,149.9 362.2,150 C361.5,150.1 360.9,150.1 360.3,150.2 C359.6,150.2 359,150.1 358.4,150.1 C357.7,150.1 357.1,150 356.5,150 C355.9,149.9 355.3,149.8 354.7,149.7 C354.1,149.6 353.5,149.5 352.9,149.4 C352.3,149.3 351.7,149.2 351.1,149.1 C350.5,149 349.9,148.9 349.3,148.8 C348.7,148.7 348.1,148.5 347.6,148.4 C347,148.3 346.4,148.2 345.8,148 C345.2,147.9 344.7,147.7 344.1,147.6 C343.5,147.5 342.9,147.3 342.4,147.2 C341.8,147 341.3,146.9 340.7,146.7 C340.1,146.5 339.6,146.4 339,146.2 C338.5,146 337.9,145.9 337.4,145.7 C336.9,145.5 336.3,145.3 335.8,145.2 C335.3,145 334.7,144.8 334.2,144.6 C333.7,144.4 333.2,144.2 332.7,143.9 C332.2,143.7 331.8,143.5 331.3,143.2 C330.9,143 330.5,142.7 330.1,142.5 C329.7,142.2 329.3,141.9 329,141.5 C328.7,141.2 328.5,140.9 328.2,140.5 C328,140.1 327.9,139.7 327.7,139.3 C327.6,138.9 327.5,138.5 327.4,138.1 C327.3,137.7 327.3,137.3 327.2,136.9 C327.1,136.5 327,136.1 326.9,135.7 C326.8,135.4 326.6,135 326.4,134.7 C326.2,134.4 325.9,134.1 325.5,133.9 C325.1,133.7 324.7,133.5 324.2,133.3 C323.7,133.1 323.1,133 322.5,132.8 C321.8,132.7 321.1,132.6 320.4,132.5 C319.7,132.4 319,132.2 318.3,132.1 C317.5,132 316.8,131.9 316.1,131.7 C315.4,131.6 314.7,131.4 314,131.2 C313.4,131.1 312.7,130.9 312.2,130.7 C311.6,130.5 311,130.2 310.5,130 C310,129.7 309.5,129.5 309.1,129.2 C308.6,129 308.2,128.7 307.8,128.4 C307.4,128.1 307.1,127.8 306.7,127.5 C306.4,127.2 306.1,126.9 305.8,126.6 C305.5,126.3 305.2,126 304.9,125.6 C304.6,125.3 304.4,125 304.1,124.7 C303.8,124.4 303.6,124 303.4,123.7 C303.1,123.4 302.9,123 302.7,122.7 C302.5,122.4 302.3,122 302.1,121.7 C301.9,121.3 301.7,121 301.6,120.7 C301.4,120.3 301.3,120 301.1,119.6 C301,119.3 300.9,118.9 300.8,118.6 C300.7,118.2 300.7,117.9 300.6,117.5 C300.6,117.1 300.6,116.8 300.6,116.4 C300.6,116.1 300.6,115.7 300.7,115.4 C300.7,115 300.8,114.6 300.9,114.3 C301,113.9 301.2,113.6 301.3,113.2 C301.5,112.8 301.6,112.5 301.8,112.1 C302,111.8 302.2,111.4 302.3,111.1 C302.5,110.7 302.7,110.4 302.8,110 C303,109.7 303.1,109.3 303.2,109 C303.4,108.7 303.5,108.3 303.5,108 C303.6,107.7 303.6,107.3 303.6,107 C303.6,106.7 303.6,106.3 303.5,106 C303.5,105.7 303.4,105.3 303.2,105 C303.1,104.7 303,104.3 302.8,104 C302.7,103.6 302.5,103.3 302.3,102.9 C302.2,102.6 302,102.2 301.8,101.9 C301.6,101.5 301.5,101.2 301.3,100.8 C301.2,100.4 301,100.1 300.9,99.7 C300.8,99.4 300.7,99 300.7,98.6 C300.6,98.3 300.6,97.9 300.6,97.6 C300.6,97.2 300.6,96.8 300.6,96.5 C300.7,96.1 300.7,95.8 300.8,95.4 C300.9,95.1 301,94.7 301.1,94.4 C301.3,94 301.4,93.7 301.6,93.3 C301.7,93 301.9,92.7 302.1,92.3 C302.3,92 302.5,91.6 302.7,91.3 C302.9,91 303.1,90.6 303.3,90.3 C303.6,90 303.8,89.6 304.1,89.3 C304.3,89 304.6,88.7 304.8,88.3 C305.1,88 305.3,87.7 305.6,87.4 C305.9,87.1 306.2,86.7 306.5,86.4 C306.8,86.1 307.1,85.8 307.4,85.5 C307.7,85.2 308,84.9 308.3,84.5 C308.6,84.2 308.9,83.9 309.3,83.6 C309.6,83.3 309.9,83 310.3,82.7 C310.6,82.4 310.9,82.1 311.3,81.8 C311.7,81.5 312,81.3 312.4,81 C312.7,80.7 313.1,80.4 313.5,80.1 C313.9,79.8 314.3,79.5 314.7,79.3 C315,79 315.4,78.7 315.8,78.4 C316.2,78.2 316.7,77.9 317.1,77.6 C317.5,77.4 317.9,77.1 318.3,76.8 C318.7,76.6 319.2,76.3 319.6,76.1 C320,75.8 320.5,75.6 320.9,75.3 C321.4,75.1 321.8,74.8 322.3,74.6 C322.7,74.3 323.2,74.1 323.7,73.8 C324.1,73.6 324.6,73.4 325.1,73.1 C325.6,72.9 326,72.7 326.5,72.5 C327,72.2 327.5,72 328,71.8 C328.5,71.6 329,71.4 329.5,71.2 C330,71 330.5,70.8 331,70.6 C331.5,70.3 332.1,70.1 332.6,70 C333.1,69.8 333.6,69.6 334.2,69.4 C334.7,69.2 335.2,69 335.8,68.8 C336.3,68.6 336.8,68.5 337.4,68.3 C337.9,68.1 338.5,67.9 339,67.8 C339.6,67.6 340.1,67.5 340.7,67.3 C341.3,67.1 341.8,67 342.4,66.8 C342.9,66.7 343.5,66.5 344.1,66.4 C344.7,66.3 345.2,66.1 345.8,66 C346.4,65.8 347,65.7 347.6,65.6 C348.1,65.5 348.7,65.3 349.3,65.2 C349.9,65.1 350.5,65 351.1,64.9 C351.7,64.8 352.3,64.7 352.9,64.6 C353.5,64.5 354.1,64.4 354.7,64.3 C355.3,64.2 355.9,64.1 356.5,64 C357.1,64 357.7,63.9 358.4,63.9 C359,63.9 359.6,63.8 360.3,63.8 C360.9,63.9 361.5,63.9 362.2,64 C362.9,64.1 363.5,64.2 364.2,64.4 C364.9,64.6 365.5,64.9 366.2,65.2 C366.9,65.5 367.6,65.9 368.2,66.4 C368.9,66.8 369.5,67.3 370.1,67.7 C370.7,68.2 371.3,68.7 371.9,69.1 C372.4,69.5 373,69.8 373.5,70.1 C374,70.3 374.5,70.4 375,70.4 C375.5,70.4 376,70.3 376.5,70.1 C377,69.8 377.6,69.5 378.1,69.1 C378.7,68.7 379.3,68.2 379.9,67.7 C380.5,67.3 381.1,66.8 381.8,66.4 C382.4,65.9 383.1,65.5 383.8,65.2 C384.5,64.9 385.1,64.6 385.8,64.4 C386.5,64.2 387.1,64.1 387.8,64 C388.5,63.9 389.1,63.9 389.7,63.8 C390.4,63.8 391,63.9 391.6,63.9 C392.3,63.9 392.9,64 393.5,64 C394.1,64.1 394.7,64.2 395.3,64.3 C395.9,64.4 396.5,64.5 397.1,64.6 C397.7,64.7 398.3,64.8 398.9,64.9 C399.5,65 400.1,65.1 400.7,65.2 C401.3,65.3 401.9,65.5 402.4,65.6 C403,65.7 403.6,65.8 404.2,66 C404.8,66.1 405.3,66.3 405.9,66.4 C406.5,66.5 407.1,66.7 407.6,66.8 C408.2,67 408.7,67.1 409.3,67.3 C409.9,67.5 410.4,67.6 411,67.8 C411.5,68 412.1,68.1 412.6,68.3 C413.1,68.5 413.7,68.7 414.2,68.8 C414.7,69 415.3,69.2 415.8,69.4 C416.3,69.6 416.8,69.8 417.3,70.1 C417.8,70.3 418.2,70.5 418.7,70.8 C419.1,71 419.5,71.3 419.9,71.5 C420.3,71.8 420.7,72.1 421,72.5 C421.3,72.8 421.5,73.1 421.8,73.5 C422,73.9 422.1,74.3 422.3,74.7 C422.4,75.1 422.5,75.5 422.6,75.9 C422.7,76.3 422.7,76.7 422.8,77.1 C422.9,77.5 423,77.9 423.1,78.3 C423.2,78.6 423.4,79 423.6,79.3 C423.8,79.6 424.1,79.9 424.5,80.1 C424.9,80.3 425.3,80.5 425.8,80.7 C426.3,80.9 426.9,81 427.5,81.2 C428.2,81.3 428.9,81.4 429.6,81.5 C430.3,81.6 431,81.8 431.7,81.9 C432.5,82 433.2,82.1 433.9,82.3 C434.6,82.4 435.3,82.6 436,82.8 C436.6,82.9 437.3,83.1 437.8,83.3 C438.4,83.5 439,83.8 439.5,84 C440,84.3 440.5,84.5 440.9,84.8 C441.4,85 441.8,85.3 442.2,85.6 C442.6,85.9 442.9,86.2 443.3,86.5 C443.6,86.8 443.9,87.1 444.2,87.4 C444.5,87.7 444.8,88 445.1,88.4 C445.4,88.7 445.6,89 445.9,89.3 C446.2,89.6 446.4,90 446.6,90.3 C446.9,90.6 447.1,91 447.3,91.3 C447.5,91.6 447.7,92 447.9,92.3 C448.1,92.7 448.3,93 448.4,93.3 C448.6,93.7 448.7,94 448.9,94.4 C449,94.7 449.1,95.1 449.2,95.4 C449.3,95.8 449.3,96.1 449.4,96.5 C449.4,96.9 449.4,97.2 449.4,97.6 C449.4,97.9 449.4,98.3 449.3,98.6 C449.3,99 449.2,99.4 449.1,99.7 C449,100.1 448.8,100.4 448.7,100.8 C448.5,101.2 448.4,101.5 448.2,101.9 C448,102.2 447.8,102.6 447.7,102.9 C447.5,103.3 447.3,103.6 447.2,104 C447,104.3 446.9,104.7 446.8,105 C446.6,105.3 446.5,105.7 446.5,106 C446.4,106.3 446.4,106.7 446.4,107 Z" style="fill:none;stroke:#111;stroke-width:0.85" />
<ellipse class="w" cx="459.0" cy="107.0" rx="5.5" ry="3.2" style="stroke-width:1.1"/>
<ellipse class="w" cx="434.4" cy="73.1" rx="5.5" ry="3.2" style="stroke-width:1.1"/>
<ellipse class="w" cx="375.0" cy="59.0" rx="5.5" ry="3.2" style="stroke-width:1.1"/>
<ellipse class="w" cx="375.0" cy="155.0" rx="5.5" ry="3.2" style="stroke-width:1.1"/>
<ellipse class="w" cx="315.6" cy="140.9" rx="5.5" ry="3.2" style="stroke-width:1.1"/>
<ellipse class="w" cx="291.0" cy="107.0" rx="5.5" ry="3.2" style="stroke-width:1.1"/>
<ellipse class="w" cx="341.4" cy="96.5" rx="10.5" ry="6.5" style="stroke-width:1.1"/>
<path d="M335,96 C336,93 339,92 341,93 M337,100 L339,97 M342,99.5 C343,97 345,96 347,96.5" class="l" style="stroke-width:.9" />
<path d="M345.6,106.7 L373,91 M356.7,115.6 L374.4,106 M311,91 L311,104.4 M336.7,123 L336.7,135.6 M440,91 L440,104.4" class="l" style="stroke-width:.8" />
<path d="M400.7,107.8 L420.8,98.2 L429.3,103.4 L400.7,121.2" style="fill:none;stroke:#111;stroke-width:.9" />
<path d="M412,106 C409.5,104 411,100.5 414.5,101 M418,103.5 C415.5,101.5 417,98 420.5,98.5 M416.5,102 L419,101" class="l" style="stroke-width:1.5" />
<ellipse cx="405" cy="112.5" rx="3" ry="2.2" style="fill:none;stroke:#111;stroke-width:1.3"/>
<path d="M409.7,70.6 C407,76 405.5,81 401.7,87.5 M401.7,86.5 L416,80" class="l" style="stroke-width:.9" />
<path d="M381.6,146 L381.6,187 M394.3,146 L394.3,187" class="l" />
<rect x="381.8" y="146" width="12.3" height="41" style="fill:#fff"/>
<path d="M375.3,113 L399.6,113 L399.6,144 C395,148 381,148 375.3,144 Z" style="fill:#fff;stroke:#111;stroke-width:1" />
<path d="M375.3,113 L399.6,113 L399.6,144 C395,148 381,148 375.3,144 Z" style="fill:#222"/>
<path d="M376,124.0 C381,125.6 394,125.6 399,124.0 M376,126.8 C381,128.4 394,128.4 399,126.8 M376,129.6 C381,131.2 394,131.2 399,129.6 M376,132.4 C381,134.0 394,134.0 399,132.4 M376,135.2 C381,136.8 394,136.8 399,135.2 M376,138.0 C381,139.6 394,139.6 399,138.0 M376,140.8 C381,142.4 394,142.4 399,140.8 M376,143.6 C381,145.2 394,145.2 399,143.6 " style="fill:none;stroke:#ccc;stroke-width:.8" />
<path d="M383,127 L386,127 M390,127 L393,127 M383,138 L386,138 M390,138 L393,138" style="stroke:#fff;stroke-width:1.4" />
<path d="M374.8,90.7 L374.8,113 M400.2,90.7 L400.2,113" class="l" />
<rect x="375.3" y="91" width="24.5" height="22" style="fill:#fff"/>
<path d="M373.2,74 C373.2,67 401.7,67 401.7,74 L401.7,90 C395,95 380,95 373.2,90 Z" class="w" style="stroke-width:1.1" />
<path d="M376.0,72 L376.0,89 M379.1,72 L379.1,89 M382.2,72 L382.2,89 M385.3,72 L385.3,89 M388.4,72 L388.4,89 M391.5,72 L391.5,89 M394.6,72 L394.6,89 M397.7,72 L397.7,89 M400.8,72 L400.8,89 " style="fill:none;stroke:#111;stroke-width:.7" />
<path d="M373.5,89 C380,94 395,94 401.5,89" class="l" style="stroke-width:1.3" />
</g><g id="p3">
<path d="M834.5,188.2 C837.7,188.5 846.5,187.6 853.6,190 C860.8,192.4 873.3,200.6 877.3,202.7" class="l" style="stroke-width:.9" />
<path d="M837.3,196.4 C840.9,197.6 852.4,199.7 859.1,203.6 C865.8,207.6 874.2,217.3 877.3,220" class="l" style="stroke-width:.9" />
<path d="M838.2,207.3 C841.7,209.4 853.2,215.5 859.1,220 C865,224.5 871.2,232.1 873.6,234.5" class="l" style="stroke-width:.9" />
<path d="M838.2,220 C841.1,222.7 850.8,231.5 855.5,236.4 C860.2,241.2 864.5,247 866.4,249.1" class="l" style="stroke-width:.9" />
<path d="M838.2,236.4 C840.2,238.5 846.7,245.5 850,249.1 C853.3,252.7 856.8,256.7 858.2,258.2" class="l" style="stroke-width:.9" />
<path d="M836.4,250.9 C837.7,252.7 842.6,259.1 844.5,261.8 C846.5,264.5 847.6,266.4 848.2,267.3" class="l" style="stroke-width:.9" />
<path d="M862.7,196.4 C864.8,197.6 873.3,202.4 875.5,203.6 M858.2,223.6 C860.2,225.2 868,231.2 870,232.7 M850,231.8 C851.2,233.2 856.1,238.6 857.3,240 M842.7,261.8 C843.9,263.3 848.8,269.4 850,270.9" class="t" />
<path d="M906.4,238.2 C909.4,244.5 920.9,264.5 924.5,276.4 C928.2,288.2 928.8,298.8 928.2,309.1 C927.6,319.4 925.5,330.3 920.9,338.2 C916.4,346.1 908.2,351.2 900.9,356.4 C893.6,361.5 881.2,367 877.3,369.1" class="l" style="stroke-width:.9" />
<path d="M901.8,254.5 C904.1,260.6 912.9,280 915.5,290.9 C918,301.8 918.5,311.5 917.3,320 C916.1,328.5 912.4,335.5 908.2,341.8 C903.9,348.2 894.5,355.5 891.8,358.2" class="l" style="stroke-width:.9" />
<path d="M894.5,269.1 C896.2,273.9 902.6,289.1 904.5,298.2 C906.5,307.3 907.6,314.8 906.4,323.6 C905.2,332.4 898.8,346.4 897.3,350.9" class="l" style="stroke-width:.9" />
<path d="M884.5,280.9 C886.1,285.6 892.1,300.2 893.6,309.1 C895.2,318 895.2,326.1 893.6,334.5 C892.1,343 886.1,355.8 884.5,360" class="l" style="stroke-width:.9" />
<path d="M873.6,290.9 C875.2,295.5 881.2,309.7 882.7,318.2 C884.2,326.7 884.2,333.9 882.7,341.8 C881.2,349.7 875.2,361.5 873.6,365.5" class="l" style="stroke-width:.9" />
<path d="M862.7,300 C863.9,303.9 868.8,316.7 870,323.6 C871.2,330.6 870,338.8 870,341.8" class="l" style="stroke-width:.9" />
<path d="M908.2,241.8 C908.8,243.3 911.2,249.4 911.8,250.9 M926.4,309.1 C926.2,310.6 925.6,316.7 925.5,318.2 M913.6,292.7 C913.9,294.8 915.2,303.3 915.5,305.5 M900.9,298.2 C901.1,300.3 901.7,308.8 901.8,310.9 M890,301.8 C890.3,304.8 891.5,317 891.8,320 M875.5,294.5 C875.8,296.4 877,303.6 877.3,305.5" class="t" />
<path d="M794.8,347.1 C796.2,348.4 799.3,352.2 803,355 C806.7,357.8 812.5,361.6 817,364.1 C821.5,366.6 825.2,368.1 830,370 C834.8,371.9 843,374.8 845.6,375.7" class="l" style="stroke-width:.9" />
<path d="M798,331.3 C799.7,333.2 804,339.3 808,343 C812,346.7 816.6,350.6 822.3,353.5 C828,356.4 834.9,358.9 842,360.5 C849.1,362.1 860.9,362.6 864.7,363" class="l" style="stroke-width:.9" />
<path d="M810.7,326 C812.2,328 816.3,334.1 820,338 C823.7,341.9 828.2,346.5 832.9,349.3 C837.6,352.1 842.4,353.8 848,355 C853.6,356.2 863.7,356.4 866.8,356.7" class="l" style="stroke-width:.9" />
<path d="M824.4,320.7 C825.8,322.2 829.8,326.8 833,330 C836.2,333.2 839.8,337 843.5,339.7 C847.2,342.4 851,344.4 855,346 C859,347.6 865.7,348.8 867.8,349.3" class="l" style="stroke-width:.9" />
<path d="M836,315.4 C837.5,316.5 842,319.5 845,322 C848,324.5 850,327.2 854,330.2 C858,333.1 866.4,338.1 868.9,339.7" class="l" style="stroke-width:.9" />
<path d="M838.5,317.0 C842.5,316.5 847.5,312.5 852.5,313.0 M840.6,321.0 C844.6,320.5 849.6,316.5 854.6,317.0 M842.7,325.0 C846.7,324.5 851.7,320.5 856.7,321.0 M844.8,329.0 C848.8,328.5 853.8,324.5 858.8,325.0 M846.9,333.0 C850.9,332.5 855.9,328.5 860.9,329.0 " style="fill:none;stroke:#111;stroke-width:1.5" />
<rect x="856.1" y="307.9" width="2.8" height="2.2" rx=".7" style="fill:none;stroke:#111;stroke-width:.9"/>
<rect x="857.0" y="312.1" width="2.8" height="2.2" rx=".7" style="fill:none;stroke:#111;stroke-width:.9"/>
<rect x="857.9" y="316.3" width="2.8" height="2.2" rx=".7" style="fill:none;stroke:#111;stroke-width:.9"/>
<rect x="858.8" y="320.5" width="2.8" height="2.2" rx=".7" style="fill:none;stroke:#111;stroke-width:.9"/>
<rect x="859.7" y="324.7" width="2.8" height="2.2" rx=".7" style="fill:none;stroke:#111;stroke-width:.9"/>
<ellipse class="w" cx="870" cy="376.4" rx="7" ry="3.6" transform="rotate(-15 870 376.4)"/>
<path d="M731.5,430 L731.5,562 M777.8,430 L777.8,562" class="l" />
<path d="M719.7,417.3 L721,426 L722.9,432.5 C730,442 742,446.5 754.6,446.5 C767,446.5 778,441 782.5,432.5 L788.9,426 L789.5,417.3 Z" class="w" />
<ellipse class="w" cx="754.6" cy="417" rx="35" ry="21.5"/>
<circle cx="733.7" cy="428.7" r=".9" fill="#111"/><circle cx="774.9" cy="428.7" r=".9" fill="#111"/>
<path d="M731.7,394.5 L731.7,418 A23,12.5 0 0 0 777.5,418 L777.5,394.5 A23,12.5 0 0 0 731.7,394.5 Z" style="fill:#fff;stroke:#111;stroke-width:1" />
<path d="M731.7,395.5 A23,12.5 0 0 0 777.5,395.5 M731.7,398.2 A23,12.5 0 0 0 777.5,398.2 M731.7,400.9 A23,12.5 0 0 0 777.5,400.9 M731.7,403.6 A23,12.5 0 0 0 777.5,403.6 M731.7,406.3 A23,12.5 0 0 0 777.5,406.3 M731.7,409.0 A23,12.5 0 0 0 777.5,409.0 M731.7,411.7 A23,12.5 0 0 0 777.5,411.7 M731.7,414.4 A23,12.5 0 0 0 777.5,414.4 M731.7,417.1 A23,12.5 0 0 0 777.5,417.1 " style="fill:none;stroke:#111;stroke-width:.9" />
<path d="M731.7,394.5 A23,12.5 0 0 1 777.5,394.5" style="fill:none;stroke:#111;stroke-width:1" />
<path d="M731.5,362 L731.5,392 M777.5,362 L777.5,392" style="fill:none;stroke:#111;stroke-width:.9;stroke-dasharray:3 2" />
<path d="M721.7,365 C720.4,361.3 718.1,351.7 714,343 C709.9,334.3 702.5,321.9 697,312.6 C691.5,303.3 685,295.1 681,287 C677,278.9 674.6,271.8 673,264 C671.4,256.2 671.8,244 671.5,240 L671,222 C671,165 705,149.5 755,149.5 C805,149.5 837.3,170 837.3,222 L837.3,251 C836.5,256.1 836.6,272.1 832.7,281.8 C828.9,291.6 820.4,299.2 814.2,309.5 C808,319.8 800.1,334.1 795.7,343.4 C791.3,352.6 789.3,361.4 788,365 C786,376 775,382 754.8,382 C738,382 724,377 721.7,365 Z" class="w" style="stroke-width:1" />
<path d="M671.5,222 A80,42.7 0 0 0 837.2,222" class="l" style="stroke-width:1.4" />
<path d="M671.8,242 A80,43 0 0 0 837.2,242" class="l" style="stroke-width:1.4" />
<path d="M698.7,166.5 C703,169 710,167 713.9,161.5 M785.1,158.3 L804.1,160.8 L802.9,169.7 Z M796,224 C797,230 801,234 808,236 C809,233 810,231 810,229 M813,247 L813,243" class="l" style="stroke-width:.9" />
<path d="M764.8,369.6 C764.3,374 764,386.4 762,396 C760,405.6 755.7,416.8 753,427 C750.3,437.2 746.3,447 746,457 C745.7,467 747,478.7 751,487 C755,495.3 761,502.8 770,507 C779,511.2 794.8,512.8 805,512 C815.2,511.2 823.8,507.3 831,502 C838.2,496.7 844.7,487.5 848,480 C851.3,472.5 851.8,466.8 851,457 C850.2,447.2 844.8,430.2 843,421 C841.2,411.8 839.2,408.3 840,402 C840.8,395.7 844,388.7 847.5,383 C851,377.3 857.2,373.2 861,368 C864.8,362.8 867.8,358 870,352 C872.2,346 873.7,339 874,332 C874.3,325 873.2,317 872,310 C870.8,303 869,295.7 867,290 C865,284.3 861.2,278.3 860,276" style="fill:none;stroke:#111;stroke-width:13.3;stroke-linecap:butt;stroke-linejoin:round" /><path d="M764.8,369.6 C764.3,374 764,386.4 762,396 C760,405.6 755.7,416.8 753,427 C750.3,437.2 746.3,447 746,457 C745.7,467 747,478.7 751,487 C755,495.3 761,502.8 770,507 C779,511.2 794.8,512.8 805,512 C815.2,511.2 823.8,507.3 831,502 C838.2,496.7 844.7,487.5 848,480 C851.3,472.5 851.8,466.8 851,457 C850.2,447.2 844.8,430.2 843,421 C841.2,411.8 839.2,408.3 840,402 C840.8,395.7 844,388.7 847.5,383 C851,377.3 857.2,373.2 861,368 C864.8,362.8 867.8,358 870,352 C872.2,346 873.7,339 874,332 C874.3,325 873.2,317 872,310 C870.8,303 869,295.7 867,290 C865,284.3 861.2,278.3 860,276" style="fill:none;stroke:#fff;stroke-width:11.3;stroke-linecap:butt;stroke-linejoin:round" />
<clipPath id="c3r"><rect x="876" y="300" width="30" height="50"/></clipPath><g clip-path="url(#c3r)">
<path d="M906.4,238.2 C909.4,244.5 920.9,264.5 924.5,276.4 C928.2,288.2 928.8,298.8 928.2,309.1 C927.6,319.4 925.5,330.3 920.9,338.2 C916.4,346.1 908.2,351.2 900.9,356.4 C893.6,361.5 881.2,367 877.3,369.1" class="l" style="stroke-width:.9" />
<path d="M901.8,254.5 C904.1,260.6 912.9,280 915.5,290.9 C918,301.8 918.5,311.5 917.3,320 C916.1,328.5 912.4,335.5 908.2,341.8 C903.9,348.2 894.5,355.5 891.8,358.2" class="l" style="stroke-width:.9" />
<path d="M894.5,269.1 C896.2,273.9 902.6,289.1 904.5,298.2 C906.5,307.3 907.6,314.8 906.4,323.6 C905.2,332.4 898.8,346.4 897.3,350.9" class="l" style="stroke-width:.9" />
</g>
<path d="M758.8,370 C761,366 768,366 771,370" class="l" />
<path d="M667.5,293.8 C665.9,293 662.9,291.2 658,289 C653.1,286.8 644.8,284.6 637.9,280.5 C631,276.4 622.9,270.9 616.7,264.7 C610.5,258.5 605.1,250.6 600.9,243.5 C596.7,236.4 593.2,229.4 591.3,222.3 C589.4,215.2 588.1,210 589.3,201 C590.5,192 592.4,179 598.6,168.5 C604.8,158 616.1,147.1 626.6,138.2 C637.1,129.3 648.7,121.4 661.5,115 C674.3,108.6 696.4,102.3 703.4,99.8 L699.9,88.1 L769.8,102.1 L718.5,133.6 L713.9,123.1 C707.1,125 685.7,129.5 673.1,134.7 C660.5,139.9 648.7,146.6 638.2,154.5 C627.7,162.4 616.1,172.9 610.3,182.4 C604.5,191.9 604.2,203.3 603.5,211.7 C602.8,220.1 604,225.8 606.2,232.9 C608.4,240 612.3,247.5 616.7,254 C621.1,260.5 627.3,267.1 632.6,272 C637.9,276.9 644.3,280.9 648.5,283.7 C652.7,286.4 654.8,286.8 658,288.5 C661.2,290.2 665.9,292.9 667.5,293.8 Z" transform="translate(0,1)" style="fill:#999"/>
<path d="M667.5,293.8 C665.9,293 662.9,291.2 658,289 C653.1,286.8 644.8,284.6 637.9,280.5 C631,276.4 622.9,270.9 616.7,264.7 C610.5,258.5 605.1,250.6 600.9,243.5 C596.7,236.4 593.2,229.4 591.3,222.3 C589.4,215.2 588.1,210 589.3,201 C590.5,192 592.4,179 598.6,168.5 C604.8,158 616.1,147.1 626.6,138.2 C637.1,129.3 648.7,121.4 661.5,115 C674.3,108.6 696.4,102.3 703.4,99.8 L699.9,88.1 L769.8,102.1 L718.5,133.6 L713.9,123.1 C707.1,125 685.7,129.5 673.1,134.7 C660.5,139.9 648.7,146.6 638.2,154.5 C627.7,162.4 616.1,172.9 610.3,182.4 C604.5,191.9 604.2,203.3 603.5,211.7 C602.8,220.1 604,225.8 606.2,232.9 C608.4,240 612.3,247.5 616.7,254 C621.1,260.5 627.3,267.1 632.6,272 C637.9,276.9 644.3,280.9 648.5,283.7 C652.7,286.4 654.8,286.8 658,288.5 C661.2,290.2 665.9,292.9 667.5,293.8 Z" transform="translate(0,2)" style="fill:#999"/>
<path d="M667.5,293.8 C665.9,293 662.9,291.2 658,289 C653.1,286.8 644.8,284.6 637.9,280.5 C631,276.4 622.9,270.9 616.7,264.7 C610.5,258.5 605.1,250.6 600.9,243.5 C596.7,236.4 593.2,229.4 591.3,222.3 C589.4,215.2 588.1,210 589.3,201 C590.5,192 592.4,179 598.6,168.5 C604.8,158 616.1,147.1 626.6,138.2 C637.1,129.3 648.7,121.4 661.5,115 C674.3,108.6 696.4,102.3 703.4,99.8 L699.9,88.1 L769.8,102.1 L718.5,133.6 L713.9,123.1 C707.1,125 685.7,129.5 673.1,134.7 C660.5,139.9 648.7,146.6 638.2,154.5 C627.7,162.4 616.1,172.9 610.3,182.4 C604.5,191.9 604.2,203.3 603.5,211.7 C602.8,220.1 604,225.8 606.2,232.9 C608.4,240 612.3,247.5 616.7,254 C621.1,260.5 627.3,267.1 632.6,272 C637.9,276.9 644.3,280.9 648.5,283.7 C652.7,286.4 654.8,286.8 658,288.5 C661.2,290.2 665.9,292.9 667.5,293.8 Z" transform="translate(0,3)" style="fill:#999"/>
<path d="M667.5,293.8 C665.9,293 662.9,291.2 658,289 C653.1,286.8 644.8,284.6 637.9,280.5 C631,276.4 622.9,270.9 616.7,264.7 C610.5,258.5 605.1,250.6 600.9,243.5 C596.7,236.4 593.2,229.4 591.3,222.3 C589.4,215.2 588.1,210 589.3,201 C590.5,192 592.4,179 598.6,168.5 C604.8,158 616.1,147.1 626.6,138.2 C637.1,129.3 648.7,121.4 661.5,115 C674.3,108.6 696.4,102.3 703.4,99.8 L699.9,88.1 L769.8,102.1 L718.5,133.6 L713.9,123.1 C707.1,125 685.7,129.5 673.1,134.7 C660.5,139.9 648.7,146.6 638.2,154.5 C627.7,162.4 616.1,172.9 610.3,182.4 C604.5,191.9 604.2,203.3 603.5,211.7 C602.8,220.1 604,225.8 606.2,232.9 C608.4,240 612.3,247.5 616.7,254 C621.1,260.5 627.3,267.1 632.6,272 C637.9,276.9 644.3,280.9 648.5,283.7 C652.7,286.4 654.8,286.8 658,288.5 C661.2,290.2 665.9,292.9 667.5,293.8 Z" transform="translate(0,4)" style="fill:#999"/>
<path d="M667.5,293.8 C665.9,293 662.9,291.2 658,289 C653.1,286.8 644.8,284.6 637.9,280.5 C631,276.4 622.9,270.9 616.7,264.7 C610.5,258.5 605.1,250.6 600.9,243.5 C596.7,236.4 593.2,229.4 591.3,222.3 C589.4,215.2 588.1,210 589.3,201 C590.5,192 592.4,179 598.6,168.5 C604.8,158 616.1,147.1 626.6,138.2 C637.1,129.3 648.7,121.4 661.5,115 C674.3,108.6 696.4,102.3 703.4,99.8 L699.9,88.1 L769.8,102.1 L718.5,133.6 L713.9,123.1 C707.1,125 685.7,129.5 673.1,134.7 C660.5,139.9 648.7,146.6 638.2,154.5 C627.7,162.4 616.1,172.9 610.3,182.4 C604.5,191.9 604.2,203.3 603.5,211.7 C602.8,220.1 604,225.8 606.2,232.9 C608.4,240 612.3,247.5 616.7,254 C621.1,260.5 627.3,267.1 632.6,272 C637.9,276.9 644.3,280.9 648.5,283.7 C652.7,286.4 654.8,286.8 658,288.5 C661.2,290.2 665.9,292.9 667.5,293.8 Z" transform="translate(0,5)" style="fill:#999"/>
<path d="M667.5,293.8 C665.9,293 662.9,291.2 658,289 C653.1,286.8 644.8,284.6 637.9,280.5 C631,276.4 622.9,270.9 616.7,264.7 C610.5,258.5 605.1,250.6 600.9,243.5 C596.7,236.4 593.2,229.4 591.3,222.3 C589.4,215.2 588.1,210 589.3,201 C590.5,192 592.4,179 598.6,168.5 C604.8,158 616.1,147.1 626.6,138.2 C637.1,129.3 648.7,121.4 661.5,115 C674.3,108.6 696.4,102.3 703.4,99.8 L699.9,88.1 L769.8,102.1 L718.5,133.6 L713.9,123.1 C707.1,125 685.7,129.5 673.1,134.7 C660.5,139.9 648.7,146.6 638.2,154.5 C627.7,162.4 616.1,172.9 610.3,182.4 C604.5,191.9 604.2,203.3 603.5,211.7 C602.8,220.1 604,225.8 606.2,232.9 C608.4,240 612.3,247.5 616.7,254 C621.1,260.5 627.3,267.1 632.6,272 C637.9,276.9 644.3,280.9 648.5,283.7 C652.7,286.4 654.8,286.8 658,288.5 C661.2,290.2 665.9,292.9 667.5,293.8 Z" transform="translate(0,6)" style="fill:#999"/>
<path d="M667.5,293.8 C665.9,293 662.9,291.2 658,289 C653.1,286.8 644.8,284.6 637.9,280.5 C631,276.4 622.9,270.9 616.7,264.7 C610.5,258.5 605.1,250.6 600.9,243.5 C596.7,236.4 593.2,229.4 591.3,222.3 C589.4,215.2 588.1,210 589.3,201 C590.5,192 592.4,179 598.6,168.5 C604.8,158 616.1,147.1 626.6,138.2 C637.1,129.3 648.7,121.4 661.5,115 C674.3,108.6 696.4,102.3 703.4,99.8 L699.9,88.1 L769.8,102.1 L718.5,133.6 L713.9,123.1 C707.1,125 685.7,129.5 673.1,134.7 C660.5,139.9 648.7,146.6 638.2,154.5 C627.7,162.4 616.1,172.9 610.3,182.4 C604.5,191.9 604.2,203.3 603.5,211.7 C602.8,220.1 604,225.8 606.2,232.9 C608.4,240 612.3,247.5 616.7,254 C621.1,260.5 627.3,267.1 632.6,272 C637.9,276.9 644.3,280.9 648.5,283.7 C652.7,286.4 654.8,286.8 658,288.5 C661.2,290.2 665.9,292.9 667.5,293.8 Z" transform="translate(0,7)" style="fill:#999"/>
<path d="M667.5,293.8 C665.9,293 662.9,291.2 658,289 C653.1,286.8 644.8,284.6 637.9,280.5 C631,276.4 622.9,270.9 616.7,264.7 C610.5,258.5 605.1,250.6 600.9,243.5 C596.7,236.4 593.2,229.4 591.3,222.3 C589.4,215.2 588.1,210 589.3,201 C590.5,192 592.4,179 598.6,168.5 C604.8,158 616.1,147.1 626.6,138.2 C637.1,129.3 648.7,121.4 661.5,115 C674.3,108.6 696.4,102.3 703.4,99.8 L699.9,88.1 L769.8,102.1 L718.5,133.6 L713.9,123.1 C707.1,125 685.7,129.5 673.1,134.7 C660.5,139.9 648.7,146.6 638.2,154.5 C627.7,162.4 616.1,172.9 610.3,182.4 C604.5,191.9 604.2,203.3 603.5,211.7 C602.8,220.1 604,225.8 606.2,232.9 C608.4,240 612.3,247.5 616.7,254 C621.1,260.5 627.3,267.1 632.6,272 C637.9,276.9 644.3,280.9 648.5,283.7 C652.7,286.4 654.8,286.8 658,288.5 C661.2,290.2 665.9,292.9 667.5,293.8 Z" transform="translate(0,8)" style="fill:#999"/>
<path d="M667.5,293.8 C665.9,293 662.9,291.2 658,289 C653.1,286.8 644.8,284.6 637.9,280.5 C631,276.4 622.9,270.9 616.7,264.7 C610.5,258.5 605.1,250.6 600.9,243.5 C596.7,236.4 593.2,229.4 591.3,222.3 C589.4,215.2 588.1,210 589.3,201 C590.5,192 592.4,179 598.6,168.5 C604.8,158 616.1,147.1 626.6,138.2 C637.1,129.3 648.7,121.4 661.5,115 C674.3,108.6 696.4,102.3 703.4,99.8 L699.9,88.1 L769.8,102.1 L718.5,133.6 L713.9,123.1 C707.1,125 685.7,129.5 673.1,134.7 C660.5,139.9 648.7,146.6 638.2,154.5 C627.7,162.4 616.1,172.9 610.3,182.4 C604.5,191.9 604.2,203.3 603.5,211.7 C602.8,220.1 604,225.8 606.2,232.9 C608.4,240 612.3,247.5 616.7,254 C621.1,260.5 627.3,267.1 632.6,272 C637.9,276.9 644.3,280.9 648.5,283.7 C652.7,286.4 654.8,286.8 658,288.5 C661.2,290.2 665.9,292.9 667.5,293.8 Z" transform="translate(0,9)" style="fill:#999"/>
<path d="M667.5,293.8 C665.9,293 662.9,291.2 658,289 C653.1,286.8 644.8,284.6 637.9,280.5 C631,276.4 622.9,270.9 616.7,264.7 C610.5,258.5 605.1,250.6 600.9,243.5 C596.7,236.4 593.2,229.4 591.3,222.3 C589.4,215.2 588.1,210 589.3,201 C590.5,192 592.4,179 598.6,168.5 C604.8,158 616.1,147.1 626.6,138.2 C637.1,129.3 648.7,121.4 661.5,115 C674.3,108.6 696.4,102.3 703.4,99.8 L703.4,109.1 C696.4,111.6 674.3,117.9 661.5,124.3 C648.7,130.7 637.1,138.6 626.6,147.5 C616.1,156.4 604.8,167.3 598.6,177.8 C592.4,188.3 590.5,201.3 589.3,210.3 C588.1,219.3 589.4,224.5 591.3,231.6 C593.2,238.7 596.7,245.7 600.9,252.8 C605.1,259.9 610.5,267.8 616.7,274 C622.9,280.2 631,285.8 637.9,289.8 C644.8,293.9 653.1,296.1 658,298.3 C662.9,300.5 665.9,302.3 667.5,303.1 Z" style="fill:#999;stroke:none" />
<path d="M713.9,123.1 C707.1,125 685.7,129.5 673.1,134.7 C660.5,139.9 648.7,146.6 638.2,154.5 C627.7,162.4 616.1,172.9 610.3,182.4 C604.5,191.9 604.2,203.3 603.5,211.7 C602.8,220.1 604,225.8 606.2,232.9 C608.4,240 612.3,247.5 616.7,254 C621.1,260.5 627.3,267.1 632.6,272 C637.9,276.9 644.3,280.9 648.5,283.7 C652.7,286.4 654.8,286.8 658,288.5 C661.2,290.2 665.9,292.9 667.5,293.8 L667.5,303.1 C665.9,302.2 661.2,299.5 658,297.8 C654.8,296.1 652.7,295.8 648.5,293 C644.3,290.2 637.9,286.2 632.6,281.3 C627.3,276.4 621.1,269.8 616.7,263.3 C612.3,256.8 608.4,249.3 606.2,242.2 C604,235.2 602.8,229.4 603.5,221 C604.2,212.6 604.5,201.2 610.3,191.7 C616.1,182.2 627.7,171.8 638.2,163.8 C648.7,155.9 660.5,149.2 673.1,144 C685.7,138.8 707.1,134.3 713.9,132.4 Z" style="fill:#999;stroke:none" />
<path d="M667.5,303.1 C665.9,302.3 662.9,300.5 658,298.3 C653.1,296.1 644.8,293.9 637.9,289.8 C631,285.8 622.9,280.2 616.7,274 C610.5,267.8 605.1,259.9 600.9,252.8 C596.7,245.7 593.2,238.7 591.3,231.6 C589.4,224.5 589.6,213.9 589.3,210.3 M713.9,132.4 C707.1,134.3 685.7,138.8 673.1,144 C660.5,149.2 648.7,155.9 638.2,163.8 C627.7,171.8 616.1,182.2 610.3,191.7 C604.5,201.2 604.6,216.1 603.5,221 M769.8,111.4 L718.5,142.9 L713.9,132.4 M769.8,102.1 L769.8,111.4 M718.5,133.6 L718.5,142.9" style="fill:none;stroke:#111;stroke-width:.7" />
<path d="M667.5,293.8 C665.9,293 662.9,291.2 658,289 C653.1,286.8 644.8,284.6 637.9,280.5 C631,276.4 622.9,270.9 616.7,264.7 C610.5,258.5 605.1,250.6 600.9,243.5 C596.7,236.4 593.2,229.4 591.3,222.3 C589.4,215.2 588.1,210 589.3,201 C590.5,192 592.4,179 598.6,168.5 C604.8,158 616.1,147.1 626.6,138.2 C637.1,129.3 648.7,121.4 661.5,115 C674.3,108.6 696.4,102.3 703.4,99.8 L699.9,88.1 L769.8,102.1 L718.5,133.6 L713.9,123.1 C707.1,125 685.7,129.5 673.1,134.7 C660.5,139.9 648.7,146.6 638.2,154.5 C627.7,162.4 616.1,172.9 610.3,182.4 C604.5,191.9 604.2,203.3 603.5,211.7 C602.8,220.1 604,225.8 606.2,232.9 C608.4,240 612.3,247.5 616.7,254 C621.1,260.5 627.3,267.1 632.6,272 C637.9,276.9 644.3,280.9 648.5,283.7 C652.7,286.4 654.8,286.8 658,288.5 C661.2,290.2 665.9,292.9 667.5,293.8 Z" class="w" />
<path d="M667.5,293.8 L667.5,303.1" style="stroke:#111;stroke-width:.6" />
<path d="M821.9,130.3 C823.6,131.3 826.9,133.3 832.1,136.2 C837.3,139.1 846.4,143.1 853.1,147.6 C859.8,152.1 866.6,156.4 872.1,162.9 C877.6,169.4 882,178 886.4,186.7 C890.8,195.4 896.6,206.3 898.8,215.2 C901,224.1 900.1,233.2 899.6,240 C899.1,246.8 899.2,248.9 895.6,256 C892,263.1 886.7,273.6 877.8,282.7 C868.9,291.8 857.5,303.6 842.2,310.6 C827,317.6 795.6,322.3 786.3,324.6 L790.2,334.8 L720.3,320.8 L771.1,290.3 L776.2,300.5 C785.5,299.2 817.3,297.6 832.1,292.9 C846.9,288.2 856.6,280.1 865.1,272.5 C873.6,264.9 879.5,255 882.9,247.1 C886.3,239.2 885.2,231.7 885.8,224.8 C886.4,217.9 887.1,212.8 886.4,205.7 C885.7,198.5 884.7,189.2 881.7,181.9 C878.7,174.6 873.5,167.8 868.3,161.9 C863,156 857.9,152 850.2,146.7 C842.5,141.4 826.6,133 821.9,130.3 Z" transform="translate(0,1)" style="fill:#999"/>
<path d="M821.9,130.3 C823.6,131.3 826.9,133.3 832.1,136.2 C837.3,139.1 846.4,143.1 853.1,147.6 C859.8,152.1 866.6,156.4 872.1,162.9 C877.6,169.4 882,178 886.4,186.7 C890.8,195.4 896.6,206.3 898.8,215.2 C901,224.1 900.1,233.2 899.6,240 C899.1,246.8 899.2,248.9 895.6,256 C892,263.1 886.7,273.6 877.8,282.7 C868.9,291.8 857.5,303.6 842.2,310.6 C827,317.6 795.6,322.3 786.3,324.6 L790.2,334.8 L720.3,320.8 L771.1,290.3 L776.2,300.5 C785.5,299.2 817.3,297.6 832.1,292.9 C846.9,288.2 856.6,280.1 865.1,272.5 C873.6,264.9 879.5,255 882.9,247.1 C886.3,239.2 885.2,231.7 885.8,224.8 C886.4,217.9 887.1,212.8 886.4,205.7 C885.7,198.5 884.7,189.2 881.7,181.9 C878.7,174.6 873.5,167.8 868.3,161.9 C863,156 857.9,152 850.2,146.7 C842.5,141.4 826.6,133 821.9,130.3 Z" transform="translate(0,2)" style="fill:#999"/>
<path d="M821.9,130.3 C823.6,131.3 826.9,133.3 832.1,136.2 C837.3,139.1 846.4,143.1 853.1,147.6 C859.8,152.1 866.6,156.4 872.1,162.9 C877.6,169.4 882,178 886.4,186.7 C890.8,195.4 896.6,206.3 898.8,215.2 C901,224.1 900.1,233.2 899.6,240 C899.1,246.8 899.2,248.9 895.6,256 C892,263.1 886.7,273.6 877.8,282.7 C868.9,291.8 857.5,303.6 842.2,310.6 C827,317.6 795.6,322.3 786.3,324.6 L790.2,334.8 L720.3,320.8 L771.1,290.3 L776.2,300.5 C785.5,299.2 817.3,297.6 832.1,292.9 C846.9,288.2 856.6,280.1 865.1,272.5 C873.6,264.9 879.5,255 882.9,247.1 C886.3,239.2 885.2,231.7 885.8,224.8 C886.4,217.9 887.1,212.8 886.4,205.7 C885.7,198.5 884.7,189.2 881.7,181.9 C878.7,174.6 873.5,167.8 868.3,161.9 C863,156 857.9,152 850.2,146.7 C842.5,141.4 826.6,133 821.9,130.3 Z" transform="translate(0,3)" style="fill:#999"/>
<path d="M821.9,130.3 C823.6,131.3 826.9,133.3 832.1,136.2 C837.3,139.1 846.4,143.1 853.1,147.6 C859.8,152.1 866.6,156.4 872.1,162.9 C877.6,169.4 882,178 886.4,186.7 C890.8,195.4 896.6,206.3 898.8,215.2 C901,224.1 900.1,233.2 899.6,240 C899.1,246.8 899.2,248.9 895.6,256 C892,263.1 886.7,273.6 877.8,282.7 C868.9,291.8 857.5,303.6 842.2,310.6 C827,317.6 795.6,322.3 786.3,324.6 L790.2,334.8 L720.3,320.8 L771.1,290.3 L776.2,300.5 C785.5,299.2 817.3,297.6 832.1,292.9 C846.9,288.2 856.6,280.1 865.1,272.5 C873.6,264.9 879.5,255 882.9,247.1 C886.3,239.2 885.2,231.7 885.8,224.8 C886.4,217.9 887.1,212.8 886.4,205.7 C885.7,198.5 884.7,189.2 881.7,181.9 C878.7,174.6 873.5,167.8 868.3,161.9 C863,156 857.9,152 850.2,146.7 C842.5,141.4 826.6,133 821.9,130.3 Z" transform="translate(0,4)" style="fill:#999"/>
<path d="M821.9,130.3 C823.6,131.3 826.9,133.3 832.1,136.2 C837.3,139.1 846.4,143.1 853.1,147.6 C859.8,152.1 866.6,156.4 872.1,162.9 C877.6,169.4 882,178 886.4,186.7 C890.8,195.4 896.6,206.3 898.8,215.2 C901,224.1 900.1,233.2 899.6,240 C899.1,246.8 899.2,248.9 895.6,256 C892,263.1 886.7,273.6 877.8,282.7 C868.9,291.8 857.5,303.6 842.2,310.6 C827,317.6 795.6,322.3 786.3,324.6 L790.2,334.8 L720.3,320.8 L771.1,290.3 L776.2,300.5 C785.5,299.2 817.3,297.6 832.1,292.9 C846.9,288.2 856.6,280.1 865.1,272.5 C873.6,264.9 879.5,255 882.9,247.1 C886.3,239.2 885.2,231.7 885.8,224.8 C886.4,217.9 887.1,212.8 886.4,205.7 C885.7,198.5 884.7,189.2 881.7,181.9 C878.7,174.6 873.5,167.8 868.3,161.9 C863,156 857.9,152 850.2,146.7 C842.5,141.4 826.6,133 821.9,130.3 Z" transform="translate(0,5)" style="fill:#999"/>
<path d="M821.9,130.3 C823.6,131.3 826.9,133.3 832.1,136.2 C837.3,139.1 846.4,143.1 853.1,147.6 C859.8,152.1 866.6,156.4 872.1,162.9 C877.6,169.4 882,178 886.4,186.7 C890.8,195.4 896.6,206.3 898.8,215.2 C901,224.1 900.1,233.2 899.6,240 C899.1,246.8 899.2,248.9 895.6,256 C892,263.1 886.7,273.6 877.8,282.7 C868.9,291.8 857.5,303.6 842.2,310.6 C827,317.6 795.6,322.3 786.3,324.6 L790.2,334.8 L720.3,320.8 L771.1,290.3 L776.2,300.5 C785.5,299.2 817.3,297.6 832.1,292.9 C846.9,288.2 856.6,280.1 865.1,272.5 C873.6,264.9 879.5,255 882.9,247.1 C886.3,239.2 885.2,231.7 885.8,224.8 C886.4,217.9 887.1,212.8 886.4,205.7 C885.7,198.5 884.7,189.2 881.7,181.9 C878.7,174.6 873.5,167.8 868.3,161.9 C863,156 857.9,152 850.2,146.7 C842.5,141.4 826.6,133 821.9,130.3 Z" transform="translate(0,6)" style="fill:#999"/>
<path d="M821.9,130.3 C823.6,131.3 826.9,133.3 832.1,136.2 C837.3,139.1 846.4,143.1 853.1,147.6 C859.8,152.1 866.6,156.4 872.1,162.9 C877.6,169.4 882,178 886.4,186.7 C890.8,195.4 896.6,206.3 898.8,215.2 C901,224.1 900.1,233.2 899.6,240 C899.1,246.8 899.2,248.9 895.6,256 C892,263.1 886.7,273.6 877.8,282.7 C868.9,291.8 857.5,303.6 842.2,310.6 C827,317.6 795.6,322.3 786.3,324.6 L790.2,334.8 L720.3,320.8 L771.1,290.3 L776.2,300.5 C785.5,299.2 817.3,297.6 832.1,292.9 C846.9,288.2 856.6,280.1 865.1,272.5 C873.6,264.9 879.5,255 882.9,247.1 C886.3,239.2 885.2,231.7 885.8,224.8 C886.4,217.9 887.1,212.8 886.4,205.7 C885.7,198.5 884.7,189.2 881.7,181.9 C878.7,174.6 873.5,167.8 868.3,161.9 C863,156 857.9,152 850.2,146.7 C842.5,141.4 826.6,133 821.9,130.3 Z" transform="translate(0,7)" style="fill:#999"/>
<path d="M821.9,130.3 C823.6,131.3 826.9,133.3 832.1,136.2 C837.3,139.1 846.4,143.1 853.1,147.6 C859.8,152.1 866.6,156.4 872.1,162.9 C877.6,169.4 882,178 886.4,186.7 C890.8,195.4 896.6,206.3 898.8,215.2 C901,224.1 900.1,233.2 899.6,240 C899.1,246.8 899.2,248.9 895.6,256 C892,263.1 886.7,273.6 877.8,282.7 C868.9,291.8 857.5,303.6 842.2,310.6 C827,317.6 795.6,322.3 786.3,324.6 L790.2,334.8 L720.3,320.8 L771.1,290.3 L776.2,300.5 C785.5,299.2 817.3,297.6 832.1,292.9 C846.9,288.2 856.6,280.1 865.1,272.5 C873.6,264.9 879.5,255 882.9,247.1 C886.3,239.2 885.2,231.7 885.8,224.8 C886.4,217.9 887.1,212.8 886.4,205.7 C885.7,198.5 884.7,189.2 881.7,181.9 C878.7,174.6 873.5,167.8 868.3,161.9 C863,156 857.9,152 850.2,146.7 C842.5,141.4 826.6,133 821.9,130.3 Z" transform="translate(0,8)" style="fill:#999"/>
<path d="M821.9,130.3 C823.6,131.3 826.9,133.3 832.1,136.2 C837.3,139.1 846.4,143.1 853.1,147.6 C859.8,152.1 866.6,156.4 872.1,162.9 C877.6,169.4 882,178 886.4,186.7 C890.8,195.4 896.6,206.3 898.8,215.2 C901,224.1 900.1,233.2 899.6,240 C899.1,246.8 899.2,248.9 895.6,256 C892,263.1 886.7,273.6 877.8,282.7 C868.9,291.8 857.5,303.6 842.2,310.6 C827,317.6 795.6,322.3 786.3,324.6 L790.2,334.8 L720.3,320.8 L771.1,290.3 L776.2,300.5 C785.5,299.2 817.3,297.6 832.1,292.9 C846.9,288.2 856.6,280.1 865.1,272.5 C873.6,264.9 879.5,255 882.9,247.1 C886.3,239.2 885.2,231.7 885.8,224.8 C886.4,217.9 887.1,212.8 886.4,205.7 C885.7,198.5 884.7,189.2 881.7,181.9 C878.7,174.6 873.5,167.8 868.3,161.9 C863,156 857.9,152 850.2,146.7 C842.5,141.4 826.6,133 821.9,130.3 Z" transform="translate(0,9)" style="fill:#999"/>
<path d="M821.9,130.3 C823.6,131.3 826.9,133.3 832.1,136.2 C837.3,139.1 846.4,143.1 853.1,147.6 C859.8,152.1 866.6,156.4 872.1,162.9 C877.6,169.4 882,178 886.4,186.7 C890.8,195.4 896.6,206.3 898.8,215.2 C901,224.1 900.1,233.2 899.6,240 C899.1,246.8 899.2,248.9 895.6,256 C892,263.1 886.7,273.6 877.8,282.7 C868.9,291.8 857.5,303.6 842.2,310.6 C827,317.6 795.6,322.3 786.3,324.6 L786.3,333.6 C795.6,331.3 827,326.6 842.2,319.6 C857.5,312.6 868.9,300.8 877.8,291.7 C886.7,282.6 892,272.1 895.6,265 C899.2,257.9 899.1,255.8 899.6,249 C900.1,242.2 901,233.1 898.8,224.2 C896.6,215.3 890.8,204.4 886.4,195.7 C882,187 877.6,178.4 872.1,171.9 C866.6,165.4 859.8,161.1 853.1,156.6 C846.4,152.1 837.3,148.1 832.1,145.2 C826.9,142.3 823.6,140.3 821.9,139.3 Z" style="fill:#999;stroke:none" />
<path d="M776.2,300.5 C785.5,299.2 817.3,297.6 832.1,292.9 C846.9,288.2 856.6,280.1 865.1,272.5 C873.6,264.9 879.5,255 882.9,247.1 C886.3,239.2 885.2,231.7 885.8,224.8 C886.4,217.9 887.1,212.8 886.4,205.7 C885.7,198.5 884.7,189.2 881.7,181.9 C878.7,174.6 873.5,167.8 868.3,161.9 C863,156 857.9,152 850.2,146.7 C842.5,141.4 826.6,133 821.9,130.3 L821.9,139.3 C826.6,142 842.5,150.4 850.2,155.7 C857.9,161 863,165 868.3,170.9 C873.5,176.8 878.7,183.6 881.7,190.9 C884.7,198.2 885.7,207.5 886.4,214.7 C887.1,221.8 886.4,226.9 885.8,233.8 C885.2,240.7 886.3,248.2 882.9,256.1 C879.5,264.1 873.6,273.9 865.1,281.5 C856.6,289.1 846.9,297.2 832.1,301.9 C817.3,306.6 785.5,308.2 776.2,309.5 Z" style="fill:#999;stroke:none" />
<path d="M886.4,214.7 C885.6,210.7 884.7,198.2 881.7,190.9 C878.7,183.6 873.5,176.8 868.3,170.9 C863,165 857.9,161 850.2,155.7 C842.5,150.4 826.6,142 821.9,139.3 M898.8,224.2 C898.9,228.3 900.1,242.2 899.6,249 C899.1,255.8 899.2,257.9 895.6,265 C892,272.1 886.7,282.6 877.8,291.7 C868.9,300.8 857.5,312.6 842.2,319.6 C827,326.6 795.6,331.3 786.3,333.6 M720.3,329.8 L790.2,343.8 M720.3,320.8 L720.3,329.8 M790.2,334.8 L790.2,343.8 M821.9,130.3 L821.9,139.3" style="fill:none;stroke:#111;stroke-width:.7" />
<path d="M821.9,130.3 C823.6,131.3 826.9,133.3 832.1,136.2 C837.3,139.1 846.4,143.1 853.1,147.6 C859.8,152.1 866.6,156.4 872.1,162.9 C877.6,169.4 882,178 886.4,186.7 C890.8,195.4 896.6,206.3 898.8,215.2 C901,224.1 900.1,233.2 899.6,240 C899.1,246.8 899.2,248.9 895.6,256 C892,263.1 886.7,273.6 877.8,282.7 C868.9,291.8 857.5,303.6 842.2,310.6 C827,317.6 795.6,322.3 786.3,324.6 L790.2,334.8 L720.3,320.8 L771.1,290.3 L776.2,300.5 C785.5,299.2 817.3,297.6 832.1,292.9 C846.9,288.2 856.6,280.1 865.1,272.5 C873.6,264.9 879.5,255 882.9,247.1 C886.3,239.2 885.2,231.7 885.8,224.8 C886.4,217.9 887.1,212.8 886.4,205.7 C885.7,198.5 884.7,189.2 881.7,181.9 C878.7,174.6 873.5,167.8 868.3,161.9 C863,156 857.9,152 850.2,146.7 C842.5,141.4 826.6,133 821.9,130.3 Z" class="w" />
</g><g id="p4">
<rect x="8.5" y="703.3" width="287.3" height="194.9" style="fill:none;stroke:#111;stroke-width:1.2"/>
<path d="M67.3,898 C67,842 105,796 178,780 C228,770 265,774 295.5,783.4" class="l" style="stroke-width:1.1" />
<path d="M132.9,798 L198.5,790 L136,826 Z" class="l" style="stroke-width:1.1" />
<path d="M135.5,800.5 L193,793 L137.5,822.5 Z" class="l" style="stroke-width:.7" />
<circle cx="4" cy="896.5" r=".6" fill="#555"/>
<path d="M31.2,734.2 L81,734.2 L67,742.2 L121.6,772.7 L97.5,786 L43.5,754.3 L31.2,761.3 Z" style="fill:#fff;stroke:#111;stroke-width:1.2" />
<path d="M31.2,761.3 L43.5,754.3 L97.5,786 L121.6,772.7 L121.6,779.7 L97.5,794.3 L43.5,763.2 L31.2,770.2 Z" style="fill:#111;stroke:#111;stroke-width:.8" />
<path d="M43.5,754.3 L43.5,763.2" style="stroke:#fff;stroke-width:.6" />
<path d="M97.5,786 L97.5,794.3" style="stroke:#fff;stroke-width:.6" />
<path d="M67,742.2 L81,734.2 L81,741 L74.6,744.8 Z" style="fill:#111;stroke:#111;stroke-width:.8" />
<filter id="gs" x="-10%" y="-50%" width="120%" height="200%"><feColorMatrix type="saturate" values="0"/></filter>
<text x="0" y="0" transform="matrix(0.866,0.5,-0.866,0.5,48.6,752.3)" filter="url(#gs)" style="font-family:'Liberation Sans',sans-serif;font-weight:bold;font-size:25px;letter-spacing:0px;fill:#111;stroke:#111;stroke-width:.9">FWD</text>
</g><g id="p5">
<path d="M506.1,638 C512.7,639.8 532.9,641 545.9,648.5 C558.9,655.9 573.7,669.7 583.9,682.6 C594,695.6 601.9,711.4 606.6,726.3 C611.4,741.1 612.9,757.9 612.3,771.8 C611.7,785.7 607.6,800.9 602.8,809.8 C598.1,818.6 591.4,819.9 583.9,824.9 C576.3,830 561.7,837.6 557.3,840.1" style="fill:none;stroke:#333;stroke-width:0.75;stroke-linejoin:round;stroke-linecap:round"/>
<path d="M508,646.6 C514.9,649.1 537.7,654.2 549.7,661.7 C561.7,669.3 571.8,680.1 580.1,692.1 C588.3,704.1 595.6,719.9 599,733.9 C602.5,747.8 602.2,762.9 600.9,775.6 C599.7,788.2 596.2,800.6 591.4,809.8 C586.7,818.9 575.6,827.1 572.5,830.6" style="fill:none;stroke:#333;stroke-width:0.75;stroke-linejoin:round;stroke-linecap:round"/>
<path d="M509.8,658 C515.2,660.8 532.3,666.5 542.1,675 C551.9,683.6 561.7,696.2 568.7,709.2 C575.6,722.2 581.3,739.2 583.9,752.8 C586.4,766.4 585.7,779.4 583.9,790.8 C582,802.2 576.6,813.2 572.5,821.1 C568.4,829 561.4,835.4 559.2,838.2" style="fill:none;stroke:#333;stroke-width:0.75;stroke-linejoin:round;stroke-linecap:round"/>
<path d="M510.8,675 C515.1,678.2 528.3,684.8 536.4,694 C544.5,703.2 553.2,717.1 559.2,730.1 C565.2,743 570.6,759.2 572.5,771.8 C574.4,784.5 572.8,795.8 570.6,806 C568.4,816.1 561.1,828.1 559.2,832.5" style="fill:none;stroke:#333;stroke-width:0.75;stroke-linejoin:round;stroke-linecap:round"/>
<path d="M509.8,692.1 C513.3,695.9 523.8,704.1 530.7,714.9 C537.7,725.6 546.9,744 551.6,756.6 C556.3,769.3 558.2,779.7 559.2,790.8 C560.1,801.8 557.6,817.7 557.3,823" style="fill:none;stroke:#333;stroke-width:0.75;stroke-linejoin:round;stroke-linecap:round"/>
<path d="M509.8,711.1 C512.7,715.5 521.5,727.5 526.9,737.6 C532.3,747.8 538.9,761.4 542.1,771.8 C545.3,782.2 545.3,795.5 545.9,800.3" style="fill:none;stroke:#333;stroke-width:0.75;stroke-linejoin:round;stroke-linecap:round"/>
<path d="M490.9,760.4 C495.3,763.9 508.3,774.3 517.4,781.3 C526.6,788.2 541.2,798.7 545.9,802.2" style="fill:none;stroke:#333;stroke-width:0.75;stroke-linejoin:round;stroke-linecap:round"/>
<path d="M483.3,769.9 C488,774 501.6,786.4 511.7,794.6 C521.9,802.8 538.6,815.1 544,819.2" style="fill:none;stroke:#333;stroke-width:0.75;stroke-linejoin:round;stroke-linecap:round"/>
<path d="M473.8,785.1 C478.9,789.2 493.1,802.5 504.2,809.8 C515.2,817 534.2,825.6 540.2,828.7" style="fill:none;stroke:#333;stroke-width:0.75;stroke-linejoin:round;stroke-linecap:round"/>
<path d="M470,802.2 C474.7,806 488,819.2 498.5,824.9 C508.9,830.6 526.9,834.4 532.6,836.3" style="fill:none;stroke:#333;stroke-width:0.75;stroke-linejoin:round;stroke-linecap:round"/>
<path d="M470,821.1 C473.8,824.3 484.9,835.4 492.8,840.1 C500.7,844.9 513.3,848 517.4,849.6" style="fill:none;stroke:#333;stroke-width:0.75;stroke-linejoin:round;stroke-linecap:round"/>
<path d="M538.3,648.5 C540.2,649.4 547.8,653.2 549.7,654.2 M532.6,676.9 C534.5,678.5 542.1,684.8 544,686.4 M523.1,686.4 C524.7,688 531,694.3 532.6,695.9 M583.9,694 C585.1,696.2 590.2,705.1 591.4,707.3 M549.7,754.7 C550.3,756.9 552.9,765.8 553.5,768 M570.6,775.6 C570.7,777.5 571.4,785.1 571.5,787 M582,764.2 C582.3,766.4 583.5,775.3 583.9,777.5 M593.3,754.7 C593.8,756.9 595.7,765.8 596.2,768 M610.4,775.6 C610.3,777.5 609.6,785.1 609.5,787" style="fill:none;stroke:#333;stroke-width:0.6;stroke-linejoin:round;stroke-linecap:round"/>
<path d="M507,779.4 C508.1,780.3 511.7,782.2 513.6,785.1 C515.5,787.9 517.6,794.6 518.4,796.5 M511.2,777.5 C512.3,778.4 515.9,780.3 517.8,783.2 C519.7,786 521.8,792.7 522.6,794.6 M515.4,775.6 C516.5,776.5 520.1,778.4 522,781.3 C523.9,784.1 525.9,790.8 526.7,792.7 M519.5,773.7 C520.6,774.6 524.3,776.5 526.2,779.4 C528.1,782.2 530.1,788.9 530.9,790.8 M523.7,771.8 C524.8,772.8 528.4,774.6 530.3,777.5 C532.2,780.3 534.3,787 535.1,788.9 " style="fill:none;stroke:#222;stroke-width:1.2;stroke-linejoin:round;stroke-linecap:round"/>
<path d="M504.2,775.6 C506.4,774 513,767.4 517.4,766.1 C521.9,764.8 528.5,767.7 530.7,768" style="fill:none;stroke:#333;stroke-width:0.7;stroke-linejoin:round;stroke-linecap:round"/>
<rect x="531.3" y="771.7" width="2.6" height="2.2" style="fill:none;stroke:#333;stroke-width:.6"/>
<rect x="532.8" y="776.4" width="2.6" height="2.2" style="fill:none;stroke:#333;stroke-width:.6"/>
<rect x="534.4" y="781.1" width="2.6" height="2.2" style="fill:none;stroke:#333;stroke-width:.6"/>
<rect x="535.9" y="785.9" width="2.6" height="2.2" style="fill:none;stroke:#333;stroke-width:.6"/>
<rect x="537.4" y="790.6" width="2.6" height="2.2" style="fill:none;stroke:#333;stroke-width:.6"/>
<ellipse cx="549" cy="849" rx="8" ry="3.8" transform="rotate(-15 549 849)" style="fill:#fff;stroke:#333;stroke-width:.75"/>
<path d="M550,772 C550.3,777.5 552.8,794.8 552,805 C551.2,815.2 549.2,825.3 545,833 C540.8,840.7 532.2,843.4 527,851 C521.8,858.6 515.9,869.4 514,878.6 C512.1,887.8 513.4,894.5 515.5,906 C517.6,917.5 525,935.5 526.5,947.7 C528,959.9 527.9,971 524.5,979 C521.1,987 513.2,992.2 506,996 C498.8,999.8 491.3,1001 481,1002 C470.7,1003 455,1004.4 444,1002 C433,999.6 420.9,995.4 415,987.5 C409.1,979.6 408.9,965.5 408.9,954.5 C408.9,943.5 412.6,932.4 415,921.4 C417.4,910.4 421.1,901.5 423.3,888.4 C425.6,875.3 427.6,850.6 428.5,843" style="fill:none;stroke:#333;stroke-width:14;stroke-linecap:butt"/>
<path d="M550,772 C550.3,777.5 552.8,794.8 552,805 C551.2,815.2 549.2,825.3 545,833 C540.8,840.7 532.2,843.4 527,851 C521.8,858.6 515.9,869.4 514,878.6 C512.1,887.8 513.4,894.5 515.5,906 C517.6,917.5 525,935.5 526.5,947.7 C528,959.9 527.9,971 524.5,979 C521.1,987 513.2,992.2 506,996 C498.8,999.8 491.3,1001 481,1002 C470.7,1003 455,1004.4 444,1002 C433,999.6 420.9,995.4 415,987.5 C409.1,979.6 408.9,965.5 408.9,954.5 C408.9,943.5 412.6,932.4 415,921.4 C417.4,910.4 421.1,901.5 423.3,888.4 C425.6,875.3 427.6,850.6 428.5,843" style="fill:none;stroke:#fff;stroke-width:12.5;stroke-linecap:butt"/>
<path d="M388.6,880 L388.6,1002" style="fill:none;stroke:#aaa;stroke-width:1.1;stroke-linejoin:round;stroke-linecap:round"/>
<path d="M442.3,878 L442.3,987" style="fill:none;stroke:#999;stroke-width:1.1;stroke-linejoin:round;stroke-linecap:round"/>
<path d="M378,839 C376.6,833.5 373.3,815.8 369.7,806 C366.1,796.2 361.5,788.2 356.6,780 C351.7,771.8 345.4,765.1 340.3,757 C335.2,748.9 329.2,741.4 326.3,731.3 C323.4,721.2 323.4,708.8 322.8,696.4 C322.2,684 322.8,663.4 322.8,656.8 C322.8,620 360,594 419.4,594 C478,594 509,620 509,656.8 C509,663.4 509.6,684.4 509,696.4 C508.4,708.4 508.5,718.9 505.6,729 C502.7,739.1 496.3,748.5 491.6,757 C486.9,765.5 481.4,771.8 477.6,780 C473.8,788.2 472.6,796.2 468.7,806 C464.8,815.8 456.4,833.5 454,839 C447,851 430,856.5 414.8,856.5 C400,856.5 385,851 378,839 Z" style="fill:#fff;stroke:#333;stroke-width:.8"/>
<path d="M322.8,668.5 A93,56 0 0 0 509,668.5" style="fill:none;stroke:#222;stroke-width:1.2;stroke-linejoin:round;stroke-linecap:round"/>
<path d="M322.8,691.8 A93,55.5 0 0 0 509,691.8" style="fill:none;stroke:#222;stroke-width:1.2;stroke-linejoin:round;stroke-linecap:round"/>
<path d="M449.7,604.4 L470.7,606.8 L470.7,616.1 Z M348.4,612.6 C355,614 364,612 369.4,606.8 M462.5,673.1 C465,680 472,686 482,688 C483,685 483,683 482.3,680 M481,707 L481,702" style="fill:none;stroke:#333;stroke-width:0.8;stroke-linejoin:round;stroke-linecap:round"/>
<path d="M379.3,858.4 L391.1,872.8 L412.3,878.7 L441.9,872.8 L448.7,862.6 Z" style="fill:#fff;stroke:#333;stroke-width:.9"/>
<path d="M391.1,866 L391.1,872.8 M412.3,871 L412.3,878.7 M441.9,866 L441.9,872.8" style="fill:none;stroke:#333;stroke-width:0.8;stroke-linejoin:round;stroke-linecap:round"/>
<path d="M376.7,839.8 L378.9,856 C390,864 400,867.5 414.8,867.5 C430,867.5 442,864 450.4,859.3 L455.5,842.3 Z" style="fill:#fff;stroke:none"/>
<path d="M376.7,839.8 L378.9,856 C390,864 400,867.5 414.8,867.5 C430,867.5 442,864 450.4,859.3 L455.5,842.3" style="fill:none;stroke:#222;stroke-width:1.2"/>
<path d="M379.5,859 C392,866 402,869.5 414.8,869.5 C430,869.5 442,866 449.5,862" style="fill:none;stroke:#222;stroke-width:0.8;stroke-linejoin:round;stroke-linecap:round"/>
<path d="M376.5,839 C385,851 400,856.5 414.8,856.5 C430,856.5 447,851 454,839.8" style="fill:none;stroke:#333;stroke-width:.8"/>
<circle cx="392.8" cy="858.2" r="1" fill="#222"/><circle cx="438.5" cy="858.2" r="1" fill="#222"/>
<clipPath id="cl5"><rect x="395" y="830" width="50" height="60"/></clipPath>
<g clip-path="url(#cl5)"><path d="M550,772 C550.3,777.5 552.8,794.8 552,805 C551.2,815.2 549.2,825.3 545,833 C540.8,840.7 532.2,843.4 527,851 C521.8,858.6 515.9,869.4 514,878.6 C512.1,887.8 513.4,894.5 515.5,906 C517.6,917.5 525,935.5 526.5,947.7 C528,959.9 527.9,971 524.5,979 C521.1,987 513.2,992.2 506,996 C498.8,999.8 491.3,1001 481,1002 C470.7,1003 455,1004.4 444,1002 C433,999.6 420.9,995.4 415,987.5 C409.1,979.6 408.9,965.5 408.9,954.5 C408.9,943.5 412.6,932.4 415,921.4 C417.4,910.4 421.1,901.5 423.3,888.4 C425.6,875.3 427.6,850.6 428.5,843" style="fill:none;stroke:#333;stroke-width:14;stroke-linecap:butt"/><path d="M550,772 C550.3,777.5 552.8,794.8 552,805 C551.2,815.2 549.2,825.3 545,833 C540.8,840.7 532.2,843.4 527,851 C521.8,858.6 515.9,869.4 514,878.6 C512.1,887.8 513.4,894.5 515.5,906 C517.6,917.5 525,935.5 526.5,947.7 C528,959.9 527.9,971 524.5,979 C521.1,987 513.2,992.2 506,996 C498.8,999.8 491.3,1001 481,1002 C470.7,1003 455,1004.4 444,1002 C433,999.6 420.9,995.4 415,987.5 C409.1,979.6 408.9,965.5 408.9,954.5 C408.9,943.5 412.6,932.4 415,921.4 C417.4,910.4 421.1,901.5 423.3,888.4 C425.6,875.3 427.6,850.6 428.5,843" style="fill:none;stroke:#fff;stroke-width:12.5;stroke-linecap:butt"/></g>
<path d="M421.8,843.5 C425,839.5 432,839.5 435.2,843.5" style="fill:none;stroke:#333;stroke-width:0.8;stroke-linejoin:round;stroke-linecap:round"/>
<path d="M369.1,810.2 C366.6,811.9 358.4,815 353.9,820.3 C349.3,825.7 343.4,835 342,842.3 C340.6,849.7 342,857.9 345.4,864.3 C348.8,870.8 356.1,876.8 362.3,881.3 C368.5,885.8 379.3,889.7 382.6,891.4 L381,894.8 L412.3,890.6 L392.8,875.3 C388.9,874.9 375.6,875.5 369.1,872.8 C362.6,870.1 357.3,864.1 353.9,859.3 C350.5,854.5 348.5,849.4 348.8,844 C349.1,838.7 352.2,832.6 355.6,827.1 C358.9,821.6 366.8,813.7 369.1,811 Z" transform="translate(-2.2,2.4)" style="fill:#999"/>
<path d="M369.1,810.2 C366.6,811.9 358.4,815 353.9,820.3 C349.3,825.7 343.4,835 342,842.3 C340.6,849.7 342,857.9 345.4,864.3 C348.8,870.8 356.1,876.8 362.3,881.3 C368.5,885.8 379.3,889.7 382.6,891.4 L381,894.8 L412.3,890.6 L392.8,875.3 C388.9,874.9 375.6,875.5 369.1,872.8 C362.6,870.1 357.3,864.1 353.9,859.3 C350.5,854.5 348.5,849.4 348.8,844 C349.1,838.7 352.2,832.6 355.6,827.1 C358.9,821.6 366.8,813.7 369.1,811 Z" style="fill:#111;stroke:#111;stroke-width:.5"/>
</g><g id="p6">
<path d="M822,815 L822,1000 A24,11.7 0 0 0 870,1000 L870,815" style="fill:#fff;stroke:#111;stroke-width:1"/>
<path d="M838,805 L838,1008 C838,1030 830,1040 808,1040 L500,1040 C483,1040 476,1048 476,1066 L476,1150" style="fill:none;stroke:#111;stroke-width:8.9;stroke-linejoin:round"/>
<path d="M838,805 L838,1008 C838,1030 830,1040 808,1040 L500,1040 C483,1040 476,1048 476,1066 L476,1150" style="fill:none;stroke:#fff;stroke-width:6.9;stroke-linejoin:round"/>
<path d="M819.5,859 C828,864 835,866.7 845,866.7 C855,866 865,862 872.4,857.1 L872.4,866.7 C865,872 855,875.5 845,875.5 C835,875.5 828,872 819.5,866.7 Z" style="fill:#fff;stroke:#111;stroke-width:1"/>
<path d="M854.3,863.5 L863.8,862 L863.8,872.4 L854.3,875 Z" style="fill:#fff;stroke:#111;stroke-width:1"/>
<path d="M819.5,859 L821.5,856.5 L823,857.5 M872.4,857.1 L870,854.5 L869,855" style="fill:none;stroke:#111;stroke-width:.9"/>
<path d="M819.5,947.6 C828,952.6 835,955.3000000000001 845,955.3000000000001 C855,954.6 865,950.6 872.4,945.7 L872.4,955.3000000000001 C865,960.6 855,964.1 845,964.1 C835,964.1 828,960.6 819.5,955.3000000000001 Z" style="fill:#fff;stroke:#111;stroke-width:1"/>
<path d="M854.3,952.1 L863.8,950.6 L863.8,961.0 L854.3,963.6 Z" style="fill:#fff;stroke:#111;stroke-width:1"/>
<path d="M819.5,947.6 L821.5,945.1 L823,946.1 M872.4,945.7 L870,943.1 L869,943.6" style="fill:none;stroke:#111;stroke-width:.9"/>
<path d="M812.4,802.9 C812,799.2 812.3,788.7 810.3,781 C808.3,773.3 805,764.9 800.3,756.9 C795.6,748.9 787.7,741.5 782.2,732.8 C776.7,724.1 770,713.3 767.1,704.6 C764.2,695.9 765.4,690.2 765.1,680.5 C764.8,670.8 765.1,652 765.1,646.3 C765.1,610 800,589 846.5,589 C893,589 926.9,610 926.9,646.3 C926.9,652 927.2,670.8 926.9,680.5 C926.6,690.2 927.6,695.9 924.9,704.6 C922.2,713.3 915.8,724.1 910.8,732.8 C905.8,741.5 899.5,748.9 894.8,756.9 C890.1,764.9 885.3,773.3 882.7,781 C880.1,788.7 879.6,799.2 879,802.9 C872,812 860,817.6 845.7,817.6 C832,817.6 820,812 812.4,802.9 Z" style="fill:#fff;stroke:#111;stroke-width:1"/>
<path d="M765.1,654 A80,47.6 0 0 0 926.9,654" style="fill:none;stroke:#111;stroke-width:1.5"/>
<path d="M765.1,674.5 A80,47 0 0 0 926.9,674.5" style="fill:none;stroke:#111;stroke-width:1.5"/>
<path d="M798.3,601.1 L817.4,598.1 L798.3,609.2 Z M886.7,600.1 C891,604 897,606 902.8,605.1 M788.2,664.4 C789,668 790,670 791,670.5 C797,668 803,663 806.3,657.4 M788,683 L788,688" style="fill:none;stroke:#111;stroke-width:1"/>
<path d="M812.4,802.9 L817.1,814.3 L822.9,823.8 C830,828 838,829.5 845.7,829.5 C855,829.5 862,827.5 866.7,824.8 L877.1,816.2 L879,802.9 Z" style="fill:#fff;stroke:none"/>
<path d="M812.4,802.9 L817.1,814.3 L822.9,823.8 C830,828 838,829.5 845.7,829.5 C855,829.5 862,827.5 866.7,824.8 L877.1,816.2 L879,802.9" style="fill:none;stroke:#111;stroke-width:1.1"/>
<path d="M812.4,802.9 C820,812 832,817.6 845.7,817.6 C860,817.6 872,812 879,802.9" style="fill:none;stroke:#111;stroke-width:1.1"/>
<path d="M817.1,814.3 C825,819 835,821.9 845.7,821.9 C858,821.9 870,817 877.1,811.4" style="fill:none;stroke:#111;stroke-width:1"/>
<path d="M838,803 L838,830" style="fill:none;stroke:#111;stroke-width:8.9"/>
<path d="M838,802 L838,832" style="fill:none;stroke:#fff;stroke-width:6.9"/>
<path d="M829.5,802.4 C832,801.5 834,801.8 835,803 L835.5,810 M834.5,803 C837,802.5 840,803.5 842,805" style="fill:none;stroke:#111;stroke-width:1.1"/>
</g><g id="p7">
<path d="M351,1229.8 L400,1229.8 M351,1239.2 L400,1239.2 M556,1229.8 L605,1229.8 M556,1239.2 L605,1239.2" style="stroke:#111;stroke-width:1.1"/>
<rect x="470.0" y="1151.4" width="11.4" height="13.3" rx="0" style="fill:#fff;stroke:#111;stroke-width:1"/>
<rect x="469.0" y="1166.7" width="13.3" height="11.4" rx="0" style="fill:#111;stroke:#111;stroke-width:1"/>
<rect x="472.9" y="1172.8" width="6.7" height="4.4" rx="0" style="fill:#fff;stroke:#111;stroke-width:0.8"/>
<rect x="467.1" y="1180.0" width="18.1" height="15.2" rx="0" style="fill:#1a1a1a;stroke:#111;stroke-width:1"/>
<path d="M475.7,1180 L475.7,1195 M467.5,1186 L485,1186 M467.5,1190 L485,1190" style="stroke:#bbb;stroke-width:.8"/>
<rect x="465.2" y="1195.2" width="21.9" height="15.2" rx="0" style="fill:#333;stroke:#111;stroke-width:1"/>
<path d="M466.5,1196 L466.5,1210 M469.2,1196 L469.2,1210 M471.9,1196 L471.9,1210 M474.6,1196 L474.6,1210 M477.3,1196 L477.3,1210 M480.0,1196 L480.0,1210 M482.7,1196 L482.7,1210 M485.4,1196 L485.4,1210 " style="stroke:#ddd;stroke-width:.6"/>
<rect x="467.1" y="1211.4" width="17.1" height="6.7" rx="0" style="fill:#fff;stroke:#111;stroke-width:1"/>
<path d="M474,1213 L477.5,1213 M475.7,1213 L475.7,1217" style="stroke:#111;stroke-width:1"/>
<path d="M462.4,1218 L489,1218 L489,1244.8 L483,1244.8 A7.5,7.5 0 0 1 468.4,1244.8 L462.4,1244.8 Z" style="fill:#fff;stroke:#111;stroke-width:1.1"/>
<circle cx="467.6" cy="1224.5" r="3.3" style="fill:#fff;stroke:#111;stroke-width:1"/>
<circle cx="484.3" cy="1224.5" r="3.3" style="fill:#fff;stroke:#111;stroke-width:1"/>
<ellipse cx="475.7" cy="1233.3" rx="8.5" ry="3.6" style="fill:#fff;stroke:#111;stroke-width:1"/>
<path d="M471,1231.5 L471,1235 M473.5,1231.5 L473.5,1235 L475,1235 M476.5,1235 L477,1231.5 L478.2,1234 L479.4,1231.5 L480,1235" style="fill:none;stroke:#111;stroke-width:.8"/>
<circle cx="475.7" cy="1247" r="7" style="fill:#fff;stroke:#111;stroke-width:1.1"/>
<circle cx="475.7" cy="1247" r="4" style="fill:#fff;stroke:#111;stroke-width:1"/>
<rect x="456.7" y="1226.7" width="5.7" height="17.1" rx="0" style="fill:#fff;stroke:#111;stroke-width:1"/>
<rect x="447.1" y="1224.8" width="8.6" height="20.0" rx="0" style="fill:#111;stroke:#111;stroke-width:1"/>
<path d="M447.5,1234.5 L455.5,1234.5" style="stroke:#ddd;stroke-width:.9"/>
<rect x="431.9" y="1224.8" width="14.3" height="20.0" rx="0" style="fill:#444;stroke:#111;stroke-width:1"/>
<path d="M432.5,1226.5 L445.5,1226.5 M432.5,1229.2 L445.5,1229.2 M432.5,1231.9 L445.5,1231.9 M432.5,1234.6 L445.5,1234.6 M432.5,1237.3 L445.5,1237.3 M432.5,1240.0 L445.5,1240.0 M432.5,1242.7 L445.5,1242.7 " style="stroke:#999;stroke-width:.7"/>
<rect x="416.7" y="1225.7" width="14.3" height="17.1" rx="0" style="fill:#fff;stroke:#111;stroke-width:1"/>
<rect x="418.6" y="1226.1" width="4.8" height="16.4" rx="0" style="fill:#111;stroke:#111;stroke-width:0.5"/>
<rect x="425.2" y="1229.5" width="4.8" height="10.5" rx="1.5" style="fill:#fff;stroke:#111;stroke-width:0.9"/>
<rect x="397.6" y="1226.7" width="17.1" height="15.2" rx="0" style="fill:#fff;stroke:#111;stroke-width:1"/>
<path d="M397.6,1226.7 L395.5,1229.8 M397.6,1241.9 L395.5,1239.2" style="stroke:#111;stroke-width:.9"/>
<rect x="489.0" y="1226.7" width="6.7" height="17.1" rx="0" style="fill:#fff;stroke:#111;stroke-width:1"/>
<rect x="497.6" y="1224.8" width="14.3" height="20.0" rx="0" style="fill:#333;stroke:#111;stroke-width:1"/>
<path d="M499.5,1226 L499.5,1244 M501.7,1226 L501.7,1244 M503.9,1226 L503.9,1244 M506.1,1226 L506.1,1244 M508.3,1226 L508.3,1244 M510.5,1226 L510.5,1244 " style="stroke:#ccc;stroke-width:.6"/>
<rect x="512.9" y="1226.7" width="8.6" height="16.2" rx="0" style="fill:#555;stroke:#111;stroke-width:1"/>
<rect x="521.4" y="1224.8" width="7.6" height="20.0" rx="0" style="fill:#111;stroke:#111;stroke-width:1"/>
<path d="M513,1234.5 L529,1234.5" style="stroke:#ddd;stroke-width:.9"/>
<rect x="530.0" y="1225.7" width="12.4" height="17.1" rx="0" style="fill:#fff;stroke:#111;stroke-width:1"/>
<rect x="537.6" y="1226.1" width="4.8" height="16.4" rx="0" style="fill:#111;stroke:#111;stroke-width:0.5"/>
<rect x="531.9" y="1229.5" width="4.8" height="10.5" rx="1.5" style="fill:#fff;stroke:#111;stroke-width:0.9"/>
<rect x="545.2" y="1226.7" width="14.3" height="15.2" rx="0" style="fill:#fff;stroke:#111;stroke-width:1"/>
<path d="M559.5,1226.7 L561.5,1229.8 M559.5,1241.9 L561.5,1239.2" style="stroke:#111;stroke-width:.9"/>
</g></svg>
</body></html>
